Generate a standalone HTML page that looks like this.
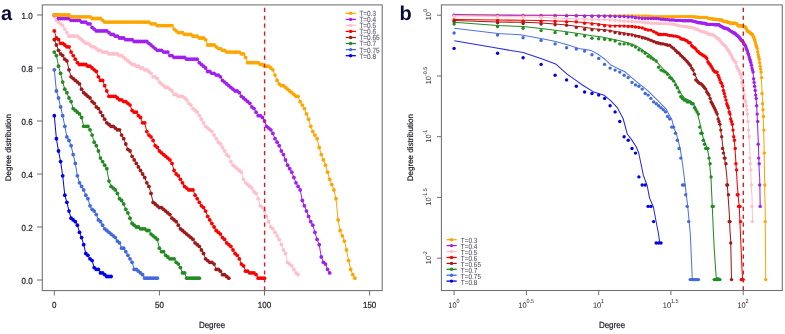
<!DOCTYPE html><html><head><meta charset="utf-8"><style>html,body{margin:0;padding:0;background:#fff;}svg{display:block;text-rendering:geometricPrecision;} text{font-family:'Liberation Sans',Arial,sans-serif;} .l{stroke:#262630;stroke-width:0.22px;}</style></head><body>
<svg width="785" height="334" viewBox="0 0 785 334">
<rect width="785" height="334" fill="#fff"/>
<text x="1" y="20.3" style="font-size:20px;font-weight:bold;fill:#0b0b3a">a</text>
<line x1="37" y1="280" x2="42.5" y2="280" stroke="#6e6e6e" stroke-width="1"/>
<text transform="translate(32.6,283.9) scale(1,1.1)" text-anchor="end" class="l" style="font-size:8px;fill:#262630">0.0</text>
<line x1="37" y1="227" x2="42.5" y2="227" stroke="#6e6e6e" stroke-width="1"/>
<text transform="translate(32.6,230.9) scale(1,1.1)" text-anchor="end" class="l" style="font-size:8px;fill:#262630">0.2</text>
<line x1="37" y1="174" x2="42.5" y2="174" stroke="#6e6e6e" stroke-width="1"/>
<text transform="translate(32.6,177.9) scale(1,1.1)" text-anchor="end" class="l" style="font-size:8px;fill:#262630">0.4</text>
<line x1="37" y1="121" x2="42.5" y2="121" stroke="#6e6e6e" stroke-width="1"/>
<text transform="translate(32.6,124.9) scale(1,1.1)" text-anchor="end" class="l" style="font-size:8px;fill:#262630">0.6</text>
<line x1="37" y1="68" x2="42.5" y2="68" stroke="#6e6e6e" stroke-width="1"/>
<text transform="translate(32.6,71.9) scale(1,1.1)" text-anchor="end" class="l" style="font-size:8px;fill:#262630">0.8</text>
<line x1="37" y1="15" x2="42.5" y2="15" stroke="#6e6e6e" stroke-width="1"/>
<text transform="translate(32.6,18.9) scale(1,1.1)" text-anchor="end" class="l" style="font-size:8px;fill:#262630">1.0</text>
<line x1="54.3" y1="290.5" x2="54.3" y2="295.5" stroke="#6e6e6e" stroke-width="1"/>
<text transform="translate(54.3,308.2) scale(1,1.1)" text-anchor="middle" class="l" style="font-size:8px;fill:#262630">0</text>
<line x1="159.4" y1="290.5" x2="159.4" y2="295.5" stroke="#6e6e6e" stroke-width="1"/>
<text transform="translate(159.4,308.2) scale(1,1.1)" text-anchor="middle" class="l" style="font-size:8px;fill:#262630">50</text>
<line x1="264.5" y1="290.5" x2="264.5" y2="295.5" stroke="#6e6e6e" stroke-width="1"/>
<text transform="translate(264.5,308.2) scale(1,1.1)" text-anchor="middle" class="l" style="font-size:8px;fill:#262630">100</text>
<line x1="369.6" y1="290.5" x2="369.6" y2="295.5" stroke="#6e6e6e" stroke-width="1"/>
<text transform="translate(369.6,308.2) scale(1,1.1)" text-anchor="middle" class="l" style="font-size:8px;fill:#262630">150</text>
<text transform="translate(212,328.3) scale(1,1.12)" text-anchor="middle" class="l" style="font-size:8px;fill:#262630">Degree</text>
<text transform="translate(10.9,147.6) rotate(-90)" text-anchor="middle" class="l" style="font-size:8px;fill:#262630">Degree distribution</text>
<g clip-path="url(#ca)">
<polyline fill="none" stroke="#0000EE" stroke-width="1" points="54.3,115.7 56.4,138.7 58.5,151 60.6,161.6 62.7,175.8 64.8,195.2 66.9,202.3 69,211.1 71.1,218.2 73.2,219.9 75.3,221.7 77.4,225.2 79.5,232.3 81.6,237.6 83.7,244.7 85.8,253.5 87.9,255.3 90,258.8 92.1,260.6 94.2,267.6 96.3,269.4 98.4,269.4 100.5,272.9 102.6,272.9 104.7,274.7 106.8,276.5 109,276.5 111.1,276.5"/>
<g fill="#0000EE"><circle cx="54.3" cy="115.7" r="1.9"/><circle cx="56.4" cy="138.7" r="1.9"/><circle cx="58.5" cy="151" r="1.9"/><circle cx="60.6" cy="161.6" r="1.9"/><circle cx="62.7" cy="175.8" r="1.9"/><circle cx="64.8" cy="195.2" r="1.9"/><circle cx="66.9" cy="202.3" r="1.9"/><circle cx="69" cy="211.1" r="1.9"/><circle cx="71.1" cy="218.2" r="1.9"/><circle cx="73.2" cy="219.9" r="1.9"/><circle cx="75.3" cy="221.7" r="1.9"/><circle cx="77.4" cy="225.2" r="1.9"/><circle cx="79.5" cy="232.3" r="1.9"/><circle cx="81.6" cy="237.6" r="1.9"/><circle cx="83.7" cy="244.7" r="1.9"/><circle cx="85.8" cy="253.5" r="1.9"/><circle cx="87.9" cy="255.3" r="1.9"/><circle cx="90" cy="258.8" r="1.9"/><circle cx="92.1" cy="260.6" r="1.9"/><circle cx="94.2" cy="267.6" r="1.9"/><circle cx="96.3" cy="269.4" r="1.9"/><circle cx="98.4" cy="269.4" r="1.9"/><circle cx="100.5" cy="272.9" r="1.9"/><circle cx="102.6" cy="272.9" r="1.9"/><circle cx="104.7" cy="274.7" r="1.9"/><circle cx="106.8" cy="276.5" r="1.9"/><circle cx="109" cy="276.5" r="1.9"/><circle cx="111.1" cy="276.5" r="1.9"/></g>
<polyline fill="none" stroke="#4169E1" stroke-width="1" points="54.3,69.8 56.4,91 58.5,98 60.6,106.9 62.7,115.7 64.8,126.3 66.9,136.9 69,140.4 71.1,145.7 73.2,154.6 75.3,163.4 77.4,175.8 79.5,182.8 81.6,186.4 83.7,189.9 85.8,195.2 87.9,198.7 90,205.8 92.1,209.3 94.2,211.1 96.3,214.6 98.4,219.9 100.5,221.7 102.6,225.2 104.7,228.8 106.8,230.5 109,232.3 111.1,234.1 113.2,235.8 115.3,237.6 117.4,241.1 119.5,242.9 121.6,248.2 123.7,248.2 125.8,251.7 127.9,255.3 130,258.8 132.1,262.3 134.2,269.4 136.3,269.4 138.4,271.2 140.5,272.9 142.6,274.7 144.7,278.2 146.8,278.2 148.9,278.2 151,278.2 153.1,278.2 155.2,278.2 157.3,278.2"/>
<g fill="#4169E1"><circle cx="54.3" cy="69.8" r="1.9"/><circle cx="56.4" cy="91" r="1.9"/><circle cx="58.5" cy="98" r="1.9"/><circle cx="60.6" cy="106.9" r="1.9"/><circle cx="62.7" cy="115.7" r="1.9"/><circle cx="64.8" cy="126.3" r="1.9"/><circle cx="66.9" cy="136.9" r="1.9"/><circle cx="69" cy="140.4" r="1.9"/><circle cx="71.1" cy="145.7" r="1.9"/><circle cx="73.2" cy="154.6" r="1.9"/><circle cx="75.3" cy="163.4" r="1.9"/><circle cx="77.4" cy="175.8" r="1.9"/><circle cx="79.5" cy="182.8" r="1.9"/><circle cx="81.6" cy="186.4" r="1.9"/><circle cx="83.7" cy="189.9" r="1.9"/><circle cx="85.8" cy="195.2" r="1.9"/><circle cx="87.9" cy="198.7" r="1.9"/><circle cx="90" cy="205.8" r="1.9"/><circle cx="92.1" cy="209.3" r="1.9"/><circle cx="94.2" cy="211.1" r="1.9"/><circle cx="96.3" cy="214.6" r="1.9"/><circle cx="98.4" cy="219.9" r="1.9"/><circle cx="100.5" cy="221.7" r="1.9"/><circle cx="102.6" cy="225.2" r="1.9"/><circle cx="104.7" cy="228.8" r="1.9"/><circle cx="106.8" cy="230.5" r="1.9"/><circle cx="109" cy="232.3" r="1.9"/><circle cx="111.1" cy="234.1" r="1.9"/><circle cx="113.2" cy="235.8" r="1.9"/><circle cx="115.3" cy="237.6" r="1.9"/><circle cx="117.4" cy="241.1" r="1.9"/><circle cx="119.5" cy="242.9" r="1.9"/><circle cx="121.6" cy="248.2" r="1.9"/><circle cx="123.7" cy="248.2" r="1.9"/><circle cx="125.8" cy="251.7" r="1.9"/><circle cx="127.9" cy="255.3" r="1.9"/><circle cx="130" cy="258.8" r="1.9"/><circle cx="132.1" cy="262.3" r="1.9"/><circle cx="134.2" cy="269.4" r="1.9"/><circle cx="136.3" cy="269.4" r="1.9"/><circle cx="138.4" cy="271.2" r="1.9"/><circle cx="140.5" cy="272.9" r="1.9"/><circle cx="142.6" cy="274.7" r="1.9"/><circle cx="144.7" cy="278.2" r="1.9"/><circle cx="146.8" cy="278.2" r="1.9"/><circle cx="148.9" cy="278.2" r="1.9"/><circle cx="151" cy="278.2" r="1.9"/><circle cx="153.1" cy="278.2" r="1.9"/><circle cx="155.2" cy="278.2" r="1.9"/><circle cx="157.3" cy="278.2" r="1.9"/></g>
<polyline fill="none" stroke="#228B22" stroke-width="1" points="54.3,52.1 56.4,55.6 58.5,66.2 60.6,73.3 62.7,82.1 64.8,89.2 66.9,92.7 69,98 71.1,101.6 73.2,108.6 75.3,110.4 77.4,112.2 79.5,113.9 81.6,117.5 83.7,126.3 85.8,126.3 87.9,126.3 90,129.8 92.1,135.1 94.2,142.2 96.3,145.7 98.4,151 100.5,158.1 102.6,161.6 104.7,165.2 106.8,168.7 109,181.1 111.1,186.4 113.2,188.1 115.3,189.9 117.4,193.4 119.5,198.7 121.6,200.5 123.7,204 125.8,209.3 127.9,212.9 130,218.2 132.1,223.5 134.2,225.2 136.3,227 138.4,227 140.5,228.8 142.6,228.8 144.7,228.8 146.8,230.5 148.9,230.5 151,234.1 153.1,235.8 155.2,237.6 157.3,239.4 159.4,248.2 161.5,251.7 163.6,251.7 165.7,255.3 167.8,257 169.9,258.8 172,258.8 174.1,258.8 176.2,262.3 178.3,264.1 180.4,267.6 182.5,272.9 184.6,272.9 186.7,278.2 188.8,278.2 190.9,278.2 193,278.2 195.1,278.2 197.2,278.2 199.3,278.2"/>
<g fill="#228B22"><circle cx="54.3" cy="52.1" r="1.9"/><circle cx="56.4" cy="55.6" r="1.9"/><circle cx="58.5" cy="66.2" r="1.9"/><circle cx="60.6" cy="73.3" r="1.9"/><circle cx="62.7" cy="82.1" r="1.9"/><circle cx="64.8" cy="89.2" r="1.9"/><circle cx="66.9" cy="92.7" r="1.9"/><circle cx="69" cy="98" r="1.9"/><circle cx="71.1" cy="101.6" r="1.9"/><circle cx="73.2" cy="108.6" r="1.9"/><circle cx="75.3" cy="110.4" r="1.9"/><circle cx="77.4" cy="112.2" r="1.9"/><circle cx="79.5" cy="113.9" r="1.9"/><circle cx="81.6" cy="117.5" r="1.9"/><circle cx="83.7" cy="126.3" r="1.9"/><circle cx="85.8" cy="126.3" r="1.9"/><circle cx="87.9" cy="126.3" r="1.9"/><circle cx="90" cy="129.8" r="1.9"/><circle cx="92.1" cy="135.1" r="1.9"/><circle cx="94.2" cy="142.2" r="1.9"/><circle cx="96.3" cy="145.7" r="1.9"/><circle cx="98.4" cy="151" r="1.9"/><circle cx="100.5" cy="158.1" r="1.9"/><circle cx="102.6" cy="161.6" r="1.9"/><circle cx="104.7" cy="165.2" r="1.9"/><circle cx="106.8" cy="168.7" r="1.9"/><circle cx="109" cy="181.1" r="1.9"/><circle cx="111.1" cy="186.4" r="1.9"/><circle cx="113.2" cy="188.1" r="1.9"/><circle cx="115.3" cy="189.9" r="1.9"/><circle cx="117.4" cy="193.4" r="1.9"/><circle cx="119.5" cy="198.7" r="1.9"/><circle cx="121.6" cy="200.5" r="1.9"/><circle cx="123.7" cy="204" r="1.9"/><circle cx="125.8" cy="209.3" r="1.9"/><circle cx="127.9" cy="212.9" r="1.9"/><circle cx="130" cy="218.2" r="1.9"/><circle cx="132.1" cy="223.5" r="1.9"/><circle cx="134.2" cy="225.2" r="1.9"/><circle cx="136.3" cy="227" r="1.9"/><circle cx="138.4" cy="227" r="1.9"/><circle cx="140.5" cy="228.8" r="1.9"/><circle cx="142.6" cy="228.8" r="1.9"/><circle cx="144.7" cy="228.8" r="1.9"/><circle cx="146.8" cy="230.5" r="1.9"/><circle cx="148.9" cy="230.5" r="1.9"/><circle cx="151" cy="234.1" r="1.9"/><circle cx="153.1" cy="235.8" r="1.9"/><circle cx="155.2" cy="237.6" r="1.9"/><circle cx="157.3" cy="239.4" r="1.9"/><circle cx="159.4" cy="248.2" r="1.9"/><circle cx="161.5" cy="251.7" r="1.9"/><circle cx="163.6" cy="251.7" r="1.9"/><circle cx="165.7" cy="255.3" r="1.9"/><circle cx="167.8" cy="257" r="1.9"/><circle cx="169.9" cy="258.8" r="1.9"/><circle cx="172" cy="258.8" r="1.9"/><circle cx="174.1" cy="258.8" r="1.9"/><circle cx="176.2" cy="262.3" r="1.9"/><circle cx="178.3" cy="264.1" r="1.9"/><circle cx="180.4" cy="267.6" r="1.9"/><circle cx="182.5" cy="272.9" r="1.9"/><circle cx="184.6" cy="272.9" r="1.9"/><circle cx="186.7" cy="278.2" r="1.9"/><circle cx="188.8" cy="278.2" r="1.9"/><circle cx="190.9" cy="278.2" r="1.9"/><circle cx="193" cy="278.2" r="1.9"/><circle cx="195.1" cy="278.2" r="1.9"/><circle cx="197.2" cy="278.2" r="1.9"/><circle cx="199.3" cy="278.2" r="1.9"/></g>
<polyline fill="none" stroke="#A01A1A" stroke-width="1" points="54.3,39.7 56.4,45 58.5,50.3 60.6,53.9 62.7,55.6 64.8,59.2 66.9,60.9 69,69.8 71.1,76.8 73.2,78.6 75.3,80.4 77.4,82.1 79.5,83.9 81.6,89.2 83.7,92.7 85.8,94.5 87.9,96.3 90,98 92.1,101.6 94.2,103.3 96.3,106.9 98.4,108.6 100.5,112.2 102.6,115.7 104.7,119.2 106.8,122.8 109,124.5 111.1,126.3 113.2,126.3 115.3,128.1 117.4,129.8 119.5,129.8 121.6,135.1 123.7,138.7 125.8,144 127.9,149.3 130,151 132.1,156.3 134.2,159.9 136.3,163.4 138.4,166.9 140.5,170.5 142.6,174 144.7,177.5 146.8,182.8 148.9,186.4 151,193.4 153.1,202.3 155.2,204 157.3,205.8 159.4,207.6 161.5,207.6 163.6,209.3 165.7,211.1 167.8,212.9 169.9,214.6 172,218.2 174.1,219.9 176.2,221.7 178.3,225.2 180.4,228.8 182.5,230.5 184.6,232.3 186.7,234.1 188.8,235.8 190.9,237.6 193,239.4 195.1,242.9 197.2,244.7 199.3,246.4 201.4,250 203.5,253.5 205.6,258.8 207.7,260.6 209.8,262.3 211.9,262.3 214.1,264.1 216.2,269.4 218.3,269.4 220.4,271.2 222.5,274.7 224.6,274.7 226.7,276.5 228.8,278.2"/>
<g fill="#A01A1A"><circle cx="54.3" cy="39.7" r="1.9"/><circle cx="56.4" cy="45" r="1.9"/><circle cx="58.5" cy="50.3" r="1.9"/><circle cx="60.6" cy="53.9" r="1.9"/><circle cx="62.7" cy="55.6" r="1.9"/><circle cx="64.8" cy="59.2" r="1.9"/><circle cx="66.9" cy="60.9" r="1.9"/><circle cx="69" cy="69.8" r="1.9"/><circle cx="71.1" cy="76.8" r="1.9"/><circle cx="73.2" cy="78.6" r="1.9"/><circle cx="75.3" cy="80.4" r="1.9"/><circle cx="77.4" cy="82.1" r="1.9"/><circle cx="79.5" cy="83.9" r="1.9"/><circle cx="81.6" cy="89.2" r="1.9"/><circle cx="83.7" cy="92.7" r="1.9"/><circle cx="85.8" cy="94.5" r="1.9"/><circle cx="87.9" cy="96.3" r="1.9"/><circle cx="90" cy="98" r="1.9"/><circle cx="92.1" cy="101.6" r="1.9"/><circle cx="94.2" cy="103.3" r="1.9"/><circle cx="96.3" cy="106.9" r="1.9"/><circle cx="98.4" cy="108.6" r="1.9"/><circle cx="100.5" cy="112.2" r="1.9"/><circle cx="102.6" cy="115.7" r="1.9"/><circle cx="104.7" cy="119.2" r="1.9"/><circle cx="106.8" cy="122.8" r="1.9"/><circle cx="109" cy="124.5" r="1.9"/><circle cx="111.1" cy="126.3" r="1.9"/><circle cx="113.2" cy="126.3" r="1.9"/><circle cx="115.3" cy="128.1" r="1.9"/><circle cx="117.4" cy="129.8" r="1.9"/><circle cx="119.5" cy="129.8" r="1.9"/><circle cx="121.6" cy="135.1" r="1.9"/><circle cx="123.7" cy="138.7" r="1.9"/><circle cx="125.8" cy="144" r="1.9"/><circle cx="127.9" cy="149.3" r="1.9"/><circle cx="130" cy="151" r="1.9"/><circle cx="132.1" cy="156.3" r="1.9"/><circle cx="134.2" cy="159.9" r="1.9"/><circle cx="136.3" cy="163.4" r="1.9"/><circle cx="138.4" cy="166.9" r="1.9"/><circle cx="140.5" cy="170.5" r="1.9"/><circle cx="142.6" cy="174" r="1.9"/><circle cx="144.7" cy="177.5" r="1.9"/><circle cx="146.8" cy="182.8" r="1.9"/><circle cx="148.9" cy="186.4" r="1.9"/><circle cx="151" cy="193.4" r="1.9"/><circle cx="153.1" cy="202.3" r="1.9"/><circle cx="155.2" cy="204" r="1.9"/><circle cx="157.3" cy="205.8" r="1.9"/><circle cx="159.4" cy="207.6" r="1.9"/><circle cx="161.5" cy="207.6" r="1.9"/><circle cx="163.6" cy="209.3" r="1.9"/><circle cx="165.7" cy="211.1" r="1.9"/><circle cx="167.8" cy="212.9" r="1.9"/><circle cx="169.9" cy="214.6" r="1.9"/><circle cx="172" cy="218.2" r="1.9"/><circle cx="174.1" cy="219.9" r="1.9"/><circle cx="176.2" cy="221.7" r="1.9"/><circle cx="178.3" cy="225.2" r="1.9"/><circle cx="180.4" cy="228.8" r="1.9"/><circle cx="182.5" cy="230.5" r="1.9"/><circle cx="184.6" cy="232.3" r="1.9"/><circle cx="186.7" cy="234.1" r="1.9"/><circle cx="188.8" cy="235.8" r="1.9"/><circle cx="190.9" cy="237.6" r="1.9"/><circle cx="193" cy="239.4" r="1.9"/><circle cx="195.1" cy="242.9" r="1.9"/><circle cx="197.2" cy="244.7" r="1.9"/><circle cx="199.3" cy="246.4" r="1.9"/><circle cx="201.4" cy="250" r="1.9"/><circle cx="203.5" cy="253.5" r="1.9"/><circle cx="205.6" cy="258.8" r="1.9"/><circle cx="207.7" cy="260.6" r="1.9"/><circle cx="209.8" cy="262.3" r="1.9"/><circle cx="211.9" cy="262.3" r="1.9"/><circle cx="214.1" cy="264.1" r="1.9"/><circle cx="216.2" cy="269.4" r="1.9"/><circle cx="218.3" cy="269.4" r="1.9"/><circle cx="220.4" cy="271.2" r="1.9"/><circle cx="222.5" cy="274.7" r="1.9"/><circle cx="224.6" cy="274.7" r="1.9"/><circle cx="226.7" cy="276.5" r="1.9"/><circle cx="228.8" cy="278.2" r="1.9"/></g>
<polyline fill="none" stroke="#FF0000" stroke-width="1" points="54.3,30.9 56.4,38 58.5,39.7 60.6,43.3 62.7,43.3 64.8,45 66.9,46.8 69,46.8 71.1,52.1 73.2,55.6 75.3,59.2 77.4,62.7 79.5,64.5 81.6,64.5 83.7,64.5 85.8,64.5 87.9,66.2 90,66.2 92.1,68 94.2,69.8 96.3,71.5 98.4,76.8 100.5,80.4 102.6,80.4 104.7,85.7 106.8,91 109,96.3 111.1,96.3 113.2,96.3 115.3,96.3 117.4,98 119.5,99.8 121.6,99.8 123.7,101.6 125.8,101.6 127.9,103.3 130,105.1 132.1,110.4 134.2,112.2 136.3,112.2 138.4,115.7 140.5,117.5 142.6,122.8 144.7,122.8 146.8,131.6 148.9,135.1 151,136.9 153.1,140.4 155.2,145.7 157.3,147.5 159.4,151 161.5,152.8 163.6,154.6 165.7,156.3 167.8,158.1 169.9,159.9 172,163.4 174.1,170.5 176.2,174 178.3,175.8 180.4,179.3 182.5,182.8 184.6,186.4 186.7,188.1 188.8,189.9 190.9,189.9 193,189.9 195.1,195.2 197.2,198.7 199.3,202.3 201.4,205.8 203.5,207.6 205.6,211.1 207.7,216.4 209.8,219.9 211.9,223.5 214.1,227 216.2,230.5 218.3,232.3 220.4,234.1 222.5,237.6 224.6,239.4 226.7,242.9 228.8,244.7 230.9,246.4 233,250 235.1,253.5 237.2,255.3 239.3,258.8 241.4,264.1 243.5,265.9 245.6,271.2 247.7,271.2 249.8,272.9 251.9,272.9 254,272.9 256.1,274.7 258.2,278.2 260.3,278.2 262.4,278.2 264.5,278.2"/>
<g fill="#FF0000"><circle cx="54.3" cy="30.9" r="1.9"/><circle cx="56.4" cy="38" r="1.9"/><circle cx="58.5" cy="39.7" r="1.9"/><circle cx="60.6" cy="43.3" r="1.9"/><circle cx="62.7" cy="43.3" r="1.9"/><circle cx="64.8" cy="45" r="1.9"/><circle cx="66.9" cy="46.8" r="1.9"/><circle cx="69" cy="46.8" r="1.9"/><circle cx="71.1" cy="52.1" r="1.9"/><circle cx="73.2" cy="55.6" r="1.9"/><circle cx="75.3" cy="59.2" r="1.9"/><circle cx="77.4" cy="62.7" r="1.9"/><circle cx="79.5" cy="64.5" r="1.9"/><circle cx="81.6" cy="64.5" r="1.9"/><circle cx="83.7" cy="64.5" r="1.9"/><circle cx="85.8" cy="64.5" r="1.9"/><circle cx="87.9" cy="66.2" r="1.9"/><circle cx="90" cy="66.2" r="1.9"/><circle cx="92.1" cy="68" r="1.9"/><circle cx="94.2" cy="69.8" r="1.9"/><circle cx="96.3" cy="71.5" r="1.9"/><circle cx="98.4" cy="76.8" r="1.9"/><circle cx="100.5" cy="80.4" r="1.9"/><circle cx="102.6" cy="80.4" r="1.9"/><circle cx="104.7" cy="85.7" r="1.9"/><circle cx="106.8" cy="91" r="1.9"/><circle cx="109" cy="96.3" r="1.9"/><circle cx="111.1" cy="96.3" r="1.9"/><circle cx="113.2" cy="96.3" r="1.9"/><circle cx="115.3" cy="96.3" r="1.9"/><circle cx="117.4" cy="98" r="1.9"/><circle cx="119.5" cy="99.8" r="1.9"/><circle cx="121.6" cy="99.8" r="1.9"/><circle cx="123.7" cy="101.6" r="1.9"/><circle cx="125.8" cy="101.6" r="1.9"/><circle cx="127.9" cy="103.3" r="1.9"/><circle cx="130" cy="105.1" r="1.9"/><circle cx="132.1" cy="110.4" r="1.9"/><circle cx="134.2" cy="112.2" r="1.9"/><circle cx="136.3" cy="112.2" r="1.9"/><circle cx="138.4" cy="115.7" r="1.9"/><circle cx="140.5" cy="117.5" r="1.9"/><circle cx="142.6" cy="122.8" r="1.9"/><circle cx="144.7" cy="122.8" r="1.9"/><circle cx="146.8" cy="131.6" r="1.9"/><circle cx="148.9" cy="135.1" r="1.9"/><circle cx="151" cy="136.9" r="1.9"/><circle cx="153.1" cy="140.4" r="1.9"/><circle cx="155.2" cy="145.7" r="1.9"/><circle cx="157.3" cy="147.5" r="1.9"/><circle cx="159.4" cy="151" r="1.9"/><circle cx="161.5" cy="152.8" r="1.9"/><circle cx="163.6" cy="154.6" r="1.9"/><circle cx="165.7" cy="156.3" r="1.9"/><circle cx="167.8" cy="158.1" r="1.9"/><circle cx="169.9" cy="159.9" r="1.9"/><circle cx="172" cy="163.4" r="1.9"/><circle cx="174.1" cy="170.5" r="1.9"/><circle cx="176.2" cy="174" r="1.9"/><circle cx="178.3" cy="175.8" r="1.9"/><circle cx="180.4" cy="179.3" r="1.9"/><circle cx="182.5" cy="182.8" r="1.9"/><circle cx="184.6" cy="186.4" r="1.9"/><circle cx="186.7" cy="188.1" r="1.9"/><circle cx="188.8" cy="189.9" r="1.9"/><circle cx="190.9" cy="189.9" r="1.9"/><circle cx="193" cy="189.9" r="1.9"/><circle cx="195.1" cy="195.2" r="1.9"/><circle cx="197.2" cy="198.7" r="1.9"/><circle cx="199.3" cy="202.3" r="1.9"/><circle cx="201.4" cy="205.8" r="1.9"/><circle cx="203.5" cy="207.6" r="1.9"/><circle cx="205.6" cy="211.1" r="1.9"/><circle cx="207.7" cy="216.4" r="1.9"/><circle cx="209.8" cy="219.9" r="1.9"/><circle cx="211.9" cy="223.5" r="1.9"/><circle cx="214.1" cy="227" r="1.9"/><circle cx="216.2" cy="230.5" r="1.9"/><circle cx="218.3" cy="232.3" r="1.9"/><circle cx="220.4" cy="234.1" r="1.9"/><circle cx="222.5" cy="237.6" r="1.9"/><circle cx="224.6" cy="239.4" r="1.9"/><circle cx="226.7" cy="242.9" r="1.9"/><circle cx="228.8" cy="244.7" r="1.9"/><circle cx="230.9" cy="246.4" r="1.9"/><circle cx="233" cy="250" r="1.9"/><circle cx="235.1" cy="253.5" r="1.9"/><circle cx="237.2" cy="255.3" r="1.9"/><circle cx="239.3" cy="258.8" r="1.9"/><circle cx="241.4" cy="264.1" r="1.9"/><circle cx="243.5" cy="265.9" r="1.9"/><circle cx="245.6" cy="271.2" r="1.9"/><circle cx="247.7" cy="271.2" r="1.9"/><circle cx="249.8" cy="272.9" r="1.9"/><circle cx="251.9" cy="272.9" r="1.9"/><circle cx="254" cy="272.9" r="1.9"/><circle cx="256.1" cy="274.7" r="1.9"/><circle cx="258.2" cy="278.2" r="1.9"/><circle cx="260.3" cy="278.2" r="1.9"/><circle cx="262.4" cy="278.2" r="1.9"/><circle cx="264.5" cy="278.2" r="1.9"/></g>
<polyline fill="none" stroke="#FFC0CB" stroke-width="1" points="54.3,16.8 56.4,20.3 58.5,22.1 60.6,23.8 62.7,25.6 64.8,29.1 66.9,32.7 69,36.2 71.1,36.2 73.2,36.2 75.3,36.2 77.4,36.2 79.5,38 81.6,39.7 83.7,41.5 85.8,43.3 87.9,43.3 90,45 92.1,46.8 94.2,46.8 96.3,48.6 98.4,50.3 100.5,50.3 102.6,52.1 104.7,52.1 106.8,52.1 109,53.9 111.1,53.9 113.2,53.9 115.3,53.9 117.4,53.9 119.5,55.6 121.6,55.6 123.7,57.4 125.8,59.2 127.9,60.9 130,62.7 132.1,64.5 134.2,64.5 136.3,66.2 138.4,66.2 140.5,68 142.6,68 144.7,69.8 146.8,69.8 148.9,71.5 151,73.3 153.1,76.8 155.2,76.8 157.3,78.6 159.4,82.1 161.5,83.9 163.6,85.7 165.7,87.4 167.8,87.4 169.9,89.2 172,91 174.1,94.5 176.2,94.5 178.3,96.3 180.4,96.3 182.5,96.3 184.6,98 186.7,99.8 188.8,103.3 190.9,105.1 193,108.6 195.1,110.4 197.2,112.2 199.3,115.7 201.4,119.2 203.5,122.8 205.6,126.3 207.7,128.1 209.8,129.8 211.9,131.6 214.1,135.1 216.2,138.7 218.3,142.2 220.4,144 222.5,147.5 224.6,151 226.7,154.6 228.8,156.3 230.9,161.6 233,165.2 235.1,166.9 237.2,168.7 239.3,170.5 241.4,172.2 243.5,179.3 245.6,182.8 247.7,184.6 249.8,186.4 251.9,188.1 254,191.7 256.1,193.4 258.2,198.7 260.3,205.8 262.4,207.6 264.5,211.1 266.6,216.4 268.7,221.7 270.8,227 272.9,228.8 275,232.3 277.1,235.8 279.2,239.4 281.3,244.7 283.4,250 285.5,253.5 287.6,262.3 289.7,264.1 291.8,265.9 293.9,269.4 296,272.9 298.1,274.7"/>
<g fill="#FFC0CB"><circle cx="54.3" cy="16.8" r="1.9"/><circle cx="56.4" cy="20.3" r="1.9"/><circle cx="58.5" cy="22.1" r="1.9"/><circle cx="60.6" cy="23.8" r="1.9"/><circle cx="62.7" cy="25.6" r="1.9"/><circle cx="64.8" cy="29.1" r="1.9"/><circle cx="66.9" cy="32.7" r="1.9"/><circle cx="69" cy="36.2" r="1.9"/><circle cx="71.1" cy="36.2" r="1.9"/><circle cx="73.2" cy="36.2" r="1.9"/><circle cx="75.3" cy="36.2" r="1.9"/><circle cx="77.4" cy="36.2" r="1.9"/><circle cx="79.5" cy="38" r="1.9"/><circle cx="81.6" cy="39.7" r="1.9"/><circle cx="83.7" cy="41.5" r="1.9"/><circle cx="85.8" cy="43.3" r="1.9"/><circle cx="87.9" cy="43.3" r="1.9"/><circle cx="90" cy="45" r="1.9"/><circle cx="92.1" cy="46.8" r="1.9"/><circle cx="94.2" cy="46.8" r="1.9"/><circle cx="96.3" cy="48.6" r="1.9"/><circle cx="98.4" cy="50.3" r="1.9"/><circle cx="100.5" cy="50.3" r="1.9"/><circle cx="102.6" cy="52.1" r="1.9"/><circle cx="104.7" cy="52.1" r="1.9"/><circle cx="106.8" cy="52.1" r="1.9"/><circle cx="109" cy="53.9" r="1.9"/><circle cx="111.1" cy="53.9" r="1.9"/><circle cx="113.2" cy="53.9" r="1.9"/><circle cx="115.3" cy="53.9" r="1.9"/><circle cx="117.4" cy="53.9" r="1.9"/><circle cx="119.5" cy="55.6" r="1.9"/><circle cx="121.6" cy="55.6" r="1.9"/><circle cx="123.7" cy="57.4" r="1.9"/><circle cx="125.8" cy="59.2" r="1.9"/><circle cx="127.9" cy="60.9" r="1.9"/><circle cx="130" cy="62.7" r="1.9"/><circle cx="132.1" cy="64.5" r="1.9"/><circle cx="134.2" cy="64.5" r="1.9"/><circle cx="136.3" cy="66.2" r="1.9"/><circle cx="138.4" cy="66.2" r="1.9"/><circle cx="140.5" cy="68" r="1.9"/><circle cx="142.6" cy="68" r="1.9"/><circle cx="144.7" cy="69.8" r="1.9"/><circle cx="146.8" cy="69.8" r="1.9"/><circle cx="148.9" cy="71.5" r="1.9"/><circle cx="151" cy="73.3" r="1.9"/><circle cx="153.1" cy="76.8" r="1.9"/><circle cx="155.2" cy="76.8" r="1.9"/><circle cx="157.3" cy="78.6" r="1.9"/><circle cx="159.4" cy="82.1" r="1.9"/><circle cx="161.5" cy="83.9" r="1.9"/><circle cx="163.6" cy="85.7" r="1.9"/><circle cx="165.7" cy="87.4" r="1.9"/><circle cx="167.8" cy="87.4" r="1.9"/><circle cx="169.9" cy="89.2" r="1.9"/><circle cx="172" cy="91" r="1.9"/><circle cx="174.1" cy="94.5" r="1.9"/><circle cx="176.2" cy="94.5" r="1.9"/><circle cx="178.3" cy="96.3" r="1.9"/><circle cx="180.4" cy="96.3" r="1.9"/><circle cx="182.5" cy="96.3" r="1.9"/><circle cx="184.6" cy="98" r="1.9"/><circle cx="186.7" cy="99.8" r="1.9"/><circle cx="188.8" cy="103.3" r="1.9"/><circle cx="190.9" cy="105.1" r="1.9"/><circle cx="193" cy="108.6" r="1.9"/><circle cx="195.1" cy="110.4" r="1.9"/><circle cx="197.2" cy="112.2" r="1.9"/><circle cx="199.3" cy="115.7" r="1.9"/><circle cx="201.4" cy="119.2" r="1.9"/><circle cx="203.5" cy="122.8" r="1.9"/><circle cx="205.6" cy="126.3" r="1.9"/><circle cx="207.7" cy="128.1" r="1.9"/><circle cx="209.8" cy="129.8" r="1.9"/><circle cx="211.9" cy="131.6" r="1.9"/><circle cx="214.1" cy="135.1" r="1.9"/><circle cx="216.2" cy="138.7" r="1.9"/><circle cx="218.3" cy="142.2" r="1.9"/><circle cx="220.4" cy="144" r="1.9"/><circle cx="222.5" cy="147.5" r="1.9"/><circle cx="224.6" cy="151" r="1.9"/><circle cx="226.7" cy="154.6" r="1.9"/><circle cx="228.8" cy="156.3" r="1.9"/><circle cx="230.9" cy="161.6" r="1.9"/><circle cx="233" cy="165.2" r="1.9"/><circle cx="235.1" cy="166.9" r="1.9"/><circle cx="237.2" cy="168.7" r="1.9"/><circle cx="239.3" cy="170.5" r="1.9"/><circle cx="241.4" cy="172.2" r="1.9"/><circle cx="243.5" cy="179.3" r="1.9"/><circle cx="245.6" cy="182.8" r="1.9"/><circle cx="247.7" cy="184.6" r="1.9"/><circle cx="249.8" cy="186.4" r="1.9"/><circle cx="251.9" cy="188.1" r="1.9"/><circle cx="254" cy="191.7" r="1.9"/><circle cx="256.1" cy="193.4" r="1.9"/><circle cx="258.2" cy="198.7" r="1.9"/><circle cx="260.3" cy="205.8" r="1.9"/><circle cx="262.4" cy="207.6" r="1.9"/><circle cx="264.5" cy="211.1" r="1.9"/><circle cx="266.6" cy="216.4" r="1.9"/><circle cx="268.7" cy="221.7" r="1.9"/><circle cx="270.8" cy="227" r="1.9"/><circle cx="272.9" cy="228.8" r="1.9"/><circle cx="275" cy="232.3" r="1.9"/><circle cx="277.1" cy="235.8" r="1.9"/><circle cx="279.2" cy="239.4" r="1.9"/><circle cx="281.3" cy="244.7" r="1.9"/><circle cx="283.4" cy="250" r="1.9"/><circle cx="285.5" cy="253.5" r="1.9"/><circle cx="287.6" cy="262.3" r="1.9"/><circle cx="289.7" cy="264.1" r="1.9"/><circle cx="291.8" cy="265.9" r="1.9"/><circle cx="293.9" cy="269.4" r="1.9"/><circle cx="296" cy="272.9" r="1.9"/><circle cx="298.1" cy="274.7" r="1.9"/></g>
<polyline fill="none" stroke="#A020F0" stroke-width="1" points="54.3,15 56.4,15 58.5,18.5 60.6,18.5 62.7,18.5 64.8,18.5 66.9,18.5 69,18.5 71.1,20.3 73.2,20.3 75.3,20.3 77.4,20.3 79.5,20.3 81.6,22.1 83.7,22.1 85.8,22.1 87.9,23.8 90,23.8 92.1,27.4 94.2,29.1 96.3,30.9 98.4,30.9 100.5,30.9 102.6,30.9 104.7,30.9 106.8,30.9 109,32.7 111.1,34.4 113.2,34.4 115.3,36.2 117.4,36.2 119.5,38 121.6,38 123.7,38 125.8,39.7 127.9,39.7 130,39.7 132.1,39.7 134.2,41.5 136.3,41.5 138.4,41.5 140.5,41.5 142.6,41.5 144.7,41.5 146.8,41.5 148.9,43.3 151,45 153.1,46.8 155.2,48.6 157.3,50.3 159.4,50.3 161.5,50.3 163.6,52.1 165.7,52.1 167.8,52.1 169.9,55.6 172,55.6 174.1,57.4 176.2,57.4 178.3,57.4 180.4,57.4 182.5,57.4 184.6,57.4 186.7,59.2 188.8,59.2 190.9,59.2 193,59.2 195.1,59.2 197.2,59.2 199.3,62.7 201.4,64.5 203.5,66.2 205.6,68 207.7,71.5 209.8,71.5 211.9,73.3 214.1,73.3 216.2,75.1 218.3,75.1 220.4,76.8 222.5,80.4 224.6,82.1 226.7,83.9 228.8,85.7 230.9,87.4 233,89.2 235.1,91 237.2,91 239.3,92.7 241.4,96.3 243.5,98 245.6,99.8 247.7,101.6 249.8,103.3 251.9,106.9 254,108.6 256.1,112.2 258.2,115.7 260.3,115.7 262.4,117.5 264.5,121 266.6,126.3 268.7,128.1 270.8,129.8 272.9,133.4 275,138.7 277.1,142.2 279.2,145.7 281.3,151 283.4,154.6 285.5,159.9 287.6,165.2 289.7,168.7 291.8,172.2 293.9,177.5 296,182.8 298.1,186.4 300.2,189.9 302.3,200.5 304.4,205.8 306.5,211.1 308.6,216.4 310.7,221.7 312.8,225.2 314.9,232.3 317.1,239.4 319.2,244.7 321.3,257 323.4,262.3 325.5,264.1 327.6,269.4 329.7,272.9"/>
<g fill="#A020F0"><circle cx="54.3" cy="15" r="1.9"/><circle cx="56.4" cy="15" r="1.9"/><circle cx="58.5" cy="18.5" r="1.9"/><circle cx="60.6" cy="18.5" r="1.9"/><circle cx="62.7" cy="18.5" r="1.9"/><circle cx="64.8" cy="18.5" r="1.9"/><circle cx="66.9" cy="18.5" r="1.9"/><circle cx="69" cy="18.5" r="1.9"/><circle cx="71.1" cy="20.3" r="1.9"/><circle cx="73.2" cy="20.3" r="1.9"/><circle cx="75.3" cy="20.3" r="1.9"/><circle cx="77.4" cy="20.3" r="1.9"/><circle cx="79.5" cy="20.3" r="1.9"/><circle cx="81.6" cy="22.1" r="1.9"/><circle cx="83.7" cy="22.1" r="1.9"/><circle cx="85.8" cy="22.1" r="1.9"/><circle cx="87.9" cy="23.8" r="1.9"/><circle cx="90" cy="23.8" r="1.9"/><circle cx="92.1" cy="27.4" r="1.9"/><circle cx="94.2" cy="29.1" r="1.9"/><circle cx="96.3" cy="30.9" r="1.9"/><circle cx="98.4" cy="30.9" r="1.9"/><circle cx="100.5" cy="30.9" r="1.9"/><circle cx="102.6" cy="30.9" r="1.9"/><circle cx="104.7" cy="30.9" r="1.9"/><circle cx="106.8" cy="30.9" r="1.9"/><circle cx="109" cy="32.7" r="1.9"/><circle cx="111.1" cy="34.4" r="1.9"/><circle cx="113.2" cy="34.4" r="1.9"/><circle cx="115.3" cy="36.2" r="1.9"/><circle cx="117.4" cy="36.2" r="1.9"/><circle cx="119.5" cy="38" r="1.9"/><circle cx="121.6" cy="38" r="1.9"/><circle cx="123.7" cy="38" r="1.9"/><circle cx="125.8" cy="39.7" r="1.9"/><circle cx="127.9" cy="39.7" r="1.9"/><circle cx="130" cy="39.7" r="1.9"/><circle cx="132.1" cy="39.7" r="1.9"/><circle cx="134.2" cy="41.5" r="1.9"/><circle cx="136.3" cy="41.5" r="1.9"/><circle cx="138.4" cy="41.5" r="1.9"/><circle cx="140.5" cy="41.5" r="1.9"/><circle cx="142.6" cy="41.5" r="1.9"/><circle cx="144.7" cy="41.5" r="1.9"/><circle cx="146.8" cy="41.5" r="1.9"/><circle cx="148.9" cy="43.3" r="1.9"/><circle cx="151" cy="45" r="1.9"/><circle cx="153.1" cy="46.8" r="1.9"/><circle cx="155.2" cy="48.6" r="1.9"/><circle cx="157.3" cy="50.3" r="1.9"/><circle cx="159.4" cy="50.3" r="1.9"/><circle cx="161.5" cy="50.3" r="1.9"/><circle cx="163.6" cy="52.1" r="1.9"/><circle cx="165.7" cy="52.1" r="1.9"/><circle cx="167.8" cy="52.1" r="1.9"/><circle cx="169.9" cy="55.6" r="1.9"/><circle cx="172" cy="55.6" r="1.9"/><circle cx="174.1" cy="57.4" r="1.9"/><circle cx="176.2" cy="57.4" r="1.9"/><circle cx="178.3" cy="57.4" r="1.9"/><circle cx="180.4" cy="57.4" r="1.9"/><circle cx="182.5" cy="57.4" r="1.9"/><circle cx="184.6" cy="57.4" r="1.9"/><circle cx="186.7" cy="59.2" r="1.9"/><circle cx="188.8" cy="59.2" r="1.9"/><circle cx="190.9" cy="59.2" r="1.9"/><circle cx="193" cy="59.2" r="1.9"/><circle cx="195.1" cy="59.2" r="1.9"/><circle cx="197.2" cy="59.2" r="1.9"/><circle cx="199.3" cy="62.7" r="1.9"/><circle cx="201.4" cy="64.5" r="1.9"/><circle cx="203.5" cy="66.2" r="1.9"/><circle cx="205.6" cy="68" r="1.9"/><circle cx="207.7" cy="71.5" r="1.9"/><circle cx="209.8" cy="71.5" r="1.9"/><circle cx="211.9" cy="73.3" r="1.9"/><circle cx="214.1" cy="73.3" r="1.9"/><circle cx="216.2" cy="75.1" r="1.9"/><circle cx="218.3" cy="75.1" r="1.9"/><circle cx="220.4" cy="76.8" r="1.9"/><circle cx="222.5" cy="80.4" r="1.9"/><circle cx="224.6" cy="82.1" r="1.9"/><circle cx="226.7" cy="83.9" r="1.9"/><circle cx="228.8" cy="85.7" r="1.9"/><circle cx="230.9" cy="87.4" r="1.9"/><circle cx="233" cy="89.2" r="1.9"/><circle cx="235.1" cy="91" r="1.9"/><circle cx="237.2" cy="91" r="1.9"/><circle cx="239.3" cy="92.7" r="1.9"/><circle cx="241.4" cy="96.3" r="1.9"/><circle cx="243.5" cy="98" r="1.9"/><circle cx="245.6" cy="99.8" r="1.9"/><circle cx="247.7" cy="101.6" r="1.9"/><circle cx="249.8" cy="103.3" r="1.9"/><circle cx="251.9" cy="106.9" r="1.9"/><circle cx="254" cy="108.6" r="1.9"/><circle cx="256.1" cy="112.2" r="1.9"/><circle cx="258.2" cy="115.7" r="1.9"/><circle cx="260.3" cy="115.7" r="1.9"/><circle cx="262.4" cy="117.5" r="1.9"/><circle cx="264.5" cy="121" r="1.9"/><circle cx="266.6" cy="126.3" r="1.9"/><circle cx="268.7" cy="128.1" r="1.9"/><circle cx="270.8" cy="129.8" r="1.9"/><circle cx="272.9" cy="133.4" r="1.9"/><circle cx="275" cy="138.7" r="1.9"/><circle cx="277.1" cy="142.2" r="1.9"/><circle cx="279.2" cy="145.7" r="1.9"/><circle cx="281.3" cy="151" r="1.9"/><circle cx="283.4" cy="154.6" r="1.9"/><circle cx="285.5" cy="159.9" r="1.9"/><circle cx="287.6" cy="165.2" r="1.9"/><circle cx="289.7" cy="168.7" r="1.9"/><circle cx="291.8" cy="172.2" r="1.9"/><circle cx="293.9" cy="177.5" r="1.9"/><circle cx="296" cy="182.8" r="1.9"/><circle cx="298.1" cy="186.4" r="1.9"/><circle cx="300.2" cy="189.9" r="1.9"/><circle cx="302.3" cy="200.5" r="1.9"/><circle cx="304.4" cy="205.8" r="1.9"/><circle cx="306.5" cy="211.1" r="1.9"/><circle cx="308.6" cy="216.4" r="1.9"/><circle cx="310.7" cy="221.7" r="1.9"/><circle cx="312.8" cy="225.2" r="1.9"/><circle cx="314.9" cy="232.3" r="1.9"/><circle cx="317.1" cy="239.4" r="1.9"/><circle cx="319.2" cy="244.7" r="1.9"/><circle cx="321.3" cy="257" r="1.9"/><circle cx="323.4" cy="262.3" r="1.9"/><circle cx="325.5" cy="264.1" r="1.9"/><circle cx="327.6" cy="269.4" r="1.9"/><circle cx="329.7" cy="272.9" r="1.9"/></g>
<polyline fill="none" stroke="#FFA500" stroke-width="1" points="54.3,15 56.4,15 58.5,15 60.6,15 62.7,15 64.8,15 66.9,15 69,15 71.1,16.8 73.2,16.8 75.3,16.8 77.4,16.8 79.5,16.8 81.6,16.8 83.7,16.8 85.8,16.8 87.9,16.8 90,16.8 92.1,18.5 94.2,18.5 96.3,18.5 98.4,18.5 100.5,18.5 102.6,20.3 104.7,22.1 106.8,22.1 109,22.1 111.1,22.1 113.2,22.1 115.3,22.1 117.4,22.1 119.5,22.1 121.6,22.1 123.7,22.1 125.8,22.1 127.9,22.1 130,22.1 132.1,22.1 134.2,22.1 136.3,22.1 138.4,22.1 140.5,22.1 142.6,22.1 144.7,22.1 146.8,22.1 148.9,22.1 151,23.8 153.1,23.8 155.2,23.8 157.3,25.6 159.4,25.6 161.5,25.6 163.6,25.6 165.7,25.6 167.8,25.6 169.9,25.6 172,25.6 174.1,29.1 176.2,30.9 178.3,32.7 180.4,32.7 182.5,32.7 184.6,34.4 186.7,34.4 188.8,34.4 190.9,34.4 193,36.2 195.1,36.2 197.2,36.2 199.3,38 201.4,38 203.5,38 205.6,39.7 207.7,45 209.8,45 211.9,45 214.1,45 216.2,46.8 218.3,48.6 220.4,48.6 222.5,50.3 224.6,50.3 226.7,52.1 228.8,52.1 230.9,52.1 233,52.1 235.1,52.1 237.2,52.1 239.3,52.1 241.4,53.9 243.5,53.9 245.6,57.4 247.7,62.7 249.8,62.7 251.9,62.7 254,62.7 256.1,62.7 258.2,62.7 260.3,64.5 262.4,64.5 264.5,66.2 266.6,66.2 268.7,66.2 270.8,68 272.9,69.8 275,75.1 277.1,80.4 279.2,83.9 281.3,85.7 283.4,85.7 285.5,87.4 287.6,89.2 289.7,91 291.8,92.7 293.9,94.5 296,96.3 298.1,96.3 300.2,101.6 302.3,105.1 304.4,108.6 306.5,113.9 308.6,119.2 310.7,126.3 312.8,131.6 314.9,135.1 317.1,138.7 319.2,147.5 321.3,154.6 323.4,159.9 325.5,165.2 327.6,172.2 329.7,179.3 331.8,184.6 333.9,189.9 336,198.7 338.1,219.9 340.2,230.5 342.3,235.8 344.4,241.1 346.5,250 348.6,260.6 350.7,269.4 352.8,274.7 354.9,278.2"/>
<g fill="#FFA500"><circle cx="54.3" cy="15" r="1.9"/><circle cx="56.4" cy="15" r="1.9"/><circle cx="58.5" cy="15" r="1.9"/><circle cx="60.6" cy="15" r="1.9"/><circle cx="62.7" cy="15" r="1.9"/><circle cx="64.8" cy="15" r="1.9"/><circle cx="66.9" cy="15" r="1.9"/><circle cx="69" cy="15" r="1.9"/><circle cx="71.1" cy="16.8" r="1.9"/><circle cx="73.2" cy="16.8" r="1.9"/><circle cx="75.3" cy="16.8" r="1.9"/><circle cx="77.4" cy="16.8" r="1.9"/><circle cx="79.5" cy="16.8" r="1.9"/><circle cx="81.6" cy="16.8" r="1.9"/><circle cx="83.7" cy="16.8" r="1.9"/><circle cx="85.8" cy="16.8" r="1.9"/><circle cx="87.9" cy="16.8" r="1.9"/><circle cx="90" cy="16.8" r="1.9"/><circle cx="92.1" cy="18.5" r="1.9"/><circle cx="94.2" cy="18.5" r="1.9"/><circle cx="96.3" cy="18.5" r="1.9"/><circle cx="98.4" cy="18.5" r="1.9"/><circle cx="100.5" cy="18.5" r="1.9"/><circle cx="102.6" cy="20.3" r="1.9"/><circle cx="104.7" cy="22.1" r="1.9"/><circle cx="106.8" cy="22.1" r="1.9"/><circle cx="109" cy="22.1" r="1.9"/><circle cx="111.1" cy="22.1" r="1.9"/><circle cx="113.2" cy="22.1" r="1.9"/><circle cx="115.3" cy="22.1" r="1.9"/><circle cx="117.4" cy="22.1" r="1.9"/><circle cx="119.5" cy="22.1" r="1.9"/><circle cx="121.6" cy="22.1" r="1.9"/><circle cx="123.7" cy="22.1" r="1.9"/><circle cx="125.8" cy="22.1" r="1.9"/><circle cx="127.9" cy="22.1" r="1.9"/><circle cx="130" cy="22.1" r="1.9"/><circle cx="132.1" cy="22.1" r="1.9"/><circle cx="134.2" cy="22.1" r="1.9"/><circle cx="136.3" cy="22.1" r="1.9"/><circle cx="138.4" cy="22.1" r="1.9"/><circle cx="140.5" cy="22.1" r="1.9"/><circle cx="142.6" cy="22.1" r="1.9"/><circle cx="144.7" cy="22.1" r="1.9"/><circle cx="146.8" cy="22.1" r="1.9"/><circle cx="148.9" cy="22.1" r="1.9"/><circle cx="151" cy="23.8" r="1.9"/><circle cx="153.1" cy="23.8" r="1.9"/><circle cx="155.2" cy="23.8" r="1.9"/><circle cx="157.3" cy="25.6" r="1.9"/><circle cx="159.4" cy="25.6" r="1.9"/><circle cx="161.5" cy="25.6" r="1.9"/><circle cx="163.6" cy="25.6" r="1.9"/><circle cx="165.7" cy="25.6" r="1.9"/><circle cx="167.8" cy="25.6" r="1.9"/><circle cx="169.9" cy="25.6" r="1.9"/><circle cx="172" cy="25.6" r="1.9"/><circle cx="174.1" cy="29.1" r="1.9"/><circle cx="176.2" cy="30.9" r="1.9"/><circle cx="178.3" cy="32.7" r="1.9"/><circle cx="180.4" cy="32.7" r="1.9"/><circle cx="182.5" cy="32.7" r="1.9"/><circle cx="184.6" cy="34.4" r="1.9"/><circle cx="186.7" cy="34.4" r="1.9"/><circle cx="188.8" cy="34.4" r="1.9"/><circle cx="190.9" cy="34.4" r="1.9"/><circle cx="193" cy="36.2" r="1.9"/><circle cx="195.1" cy="36.2" r="1.9"/><circle cx="197.2" cy="36.2" r="1.9"/><circle cx="199.3" cy="38" r="1.9"/><circle cx="201.4" cy="38" r="1.9"/><circle cx="203.5" cy="38" r="1.9"/><circle cx="205.6" cy="39.7" r="1.9"/><circle cx="207.7" cy="45" r="1.9"/><circle cx="209.8" cy="45" r="1.9"/><circle cx="211.9" cy="45" r="1.9"/><circle cx="214.1" cy="45" r="1.9"/><circle cx="216.2" cy="46.8" r="1.9"/><circle cx="218.3" cy="48.6" r="1.9"/><circle cx="220.4" cy="48.6" r="1.9"/><circle cx="222.5" cy="50.3" r="1.9"/><circle cx="224.6" cy="50.3" r="1.9"/><circle cx="226.7" cy="52.1" r="1.9"/><circle cx="228.8" cy="52.1" r="1.9"/><circle cx="230.9" cy="52.1" r="1.9"/><circle cx="233" cy="52.1" r="1.9"/><circle cx="235.1" cy="52.1" r="1.9"/><circle cx="237.2" cy="52.1" r="1.9"/><circle cx="239.3" cy="52.1" r="1.9"/><circle cx="241.4" cy="53.9" r="1.9"/><circle cx="243.5" cy="53.9" r="1.9"/><circle cx="245.6" cy="57.4" r="1.9"/><circle cx="247.7" cy="62.7" r="1.9"/><circle cx="249.8" cy="62.7" r="1.9"/><circle cx="251.9" cy="62.7" r="1.9"/><circle cx="254" cy="62.7" r="1.9"/><circle cx="256.1" cy="62.7" r="1.9"/><circle cx="258.2" cy="62.7" r="1.9"/><circle cx="260.3" cy="64.5" r="1.9"/><circle cx="262.4" cy="64.5" r="1.9"/><circle cx="264.5" cy="66.2" r="1.9"/><circle cx="266.6" cy="66.2" r="1.9"/><circle cx="268.7" cy="66.2" r="1.9"/><circle cx="270.8" cy="68" r="1.9"/><circle cx="272.9" cy="69.8" r="1.9"/><circle cx="275" cy="75.1" r="1.9"/><circle cx="277.1" cy="80.4" r="1.9"/><circle cx="279.2" cy="83.9" r="1.9"/><circle cx="281.3" cy="85.7" r="1.9"/><circle cx="283.4" cy="85.7" r="1.9"/><circle cx="285.5" cy="87.4" r="1.9"/><circle cx="287.6" cy="89.2" r="1.9"/><circle cx="289.7" cy="91" r="1.9"/><circle cx="291.8" cy="92.7" r="1.9"/><circle cx="293.9" cy="94.5" r="1.9"/><circle cx="296" cy="96.3" r="1.9"/><circle cx="298.1" cy="96.3" r="1.9"/><circle cx="300.2" cy="101.6" r="1.9"/><circle cx="302.3" cy="105.1" r="1.9"/><circle cx="304.4" cy="108.6" r="1.9"/><circle cx="306.5" cy="113.9" r="1.9"/><circle cx="308.6" cy="119.2" r="1.9"/><circle cx="310.7" cy="126.3" r="1.9"/><circle cx="312.8" cy="131.6" r="1.9"/><circle cx="314.9" cy="135.1" r="1.9"/><circle cx="317.1" cy="138.7" r="1.9"/><circle cx="319.2" cy="147.5" r="1.9"/><circle cx="321.3" cy="154.6" r="1.9"/><circle cx="323.4" cy="159.9" r="1.9"/><circle cx="325.5" cy="165.2" r="1.9"/><circle cx="327.6" cy="172.2" r="1.9"/><circle cx="329.7" cy="179.3" r="1.9"/><circle cx="331.8" cy="184.6" r="1.9"/><circle cx="333.9" cy="189.9" r="1.9"/><circle cx="336" cy="198.7" r="1.9"/><circle cx="338.1" cy="219.9" r="1.9"/><circle cx="340.2" cy="230.5" r="1.9"/><circle cx="342.3" cy="235.8" r="1.9"/><circle cx="344.4" cy="241.1" r="1.9"/><circle cx="346.5" cy="250" r="1.9"/><circle cx="348.6" cy="260.6" r="1.9"/><circle cx="350.7" cy="269.4" r="1.9"/><circle cx="352.8" cy="274.7" r="1.9"/><circle cx="354.9" cy="278.2" r="1.9"/></g>
</g>
<clipPath id="ca"><rect x="42.5" y="4.5" width="340" height="286"/></clipPath>
<line x1="264.6" y1="290.5" x2="264.6" y2="4.5" stroke="#d11f26" stroke-width="1.4" stroke-dasharray="4.2 3.76"/>
<line x1="345.7" y1="13.3" x2="355.9" y2="13.3" stroke="#FFA500" stroke-width="1.3"/>
<circle cx="350.6" cy="13.3" r="1.7" fill="#FFA500"/>
<text transform="translate(359.4,16.2) scale(1,1.15)" style="font-size:6.45px;fill:#64647a;stroke:#64647a;stroke-width:0.12px">T=0.3</text>
<line x1="345.7" y1="19.4" x2="355.9" y2="19.4" stroke="#A020F0" stroke-width="1.3"/>
<circle cx="350.6" cy="19.4" r="1.7" fill="#A020F0"/>
<text transform="translate(359.4,22.2) scale(1,1.15)" style="font-size:6.45px;fill:#64647a;stroke:#64647a;stroke-width:0.12px">T=0.4</text>
<line x1="345.7" y1="25.4" x2="355.9" y2="25.4" stroke="#FFC0CB" stroke-width="1.3"/>
<circle cx="350.6" cy="25.4" r="1.7" fill="#FFC0CB"/>
<text transform="translate(359.4,28.3) scale(1,1.15)" style="font-size:6.45px;fill:#64647a;stroke:#64647a;stroke-width:0.12px">T=0.5</text>
<line x1="345.7" y1="31.4" x2="355.9" y2="31.4" stroke="#FF0000" stroke-width="1.3"/>
<circle cx="350.6" cy="31.4" r="1.7" fill="#FF0000"/>
<text transform="translate(359.4,34.4) scale(1,1.15)" style="font-size:6.45px;fill:#64647a;stroke:#64647a;stroke-width:0.12px">T=0.6</text>
<line x1="345.7" y1="37.5" x2="355.9" y2="37.5" stroke="#A01A1A" stroke-width="1.3"/>
<circle cx="350.6" cy="37.5" r="1.7" fill="#A01A1A"/>
<text transform="translate(359.4,40.4) scale(1,1.15)" style="font-size:6.45px;fill:#64647a;stroke:#64647a;stroke-width:0.12px">T=0.65</text>
<line x1="345.7" y1="43.5" x2="355.9" y2="43.5" stroke="#228B22" stroke-width="1.3"/>
<circle cx="350.6" cy="43.5" r="1.7" fill="#228B22"/>
<text transform="translate(359.4,46.4) scale(1,1.15)" style="font-size:6.45px;fill:#64647a;stroke:#64647a;stroke-width:0.12px">T=0.7</text>
<line x1="345.7" y1="49.6" x2="355.9" y2="49.6" stroke="#4169E1" stroke-width="1.3"/>
<circle cx="350.6" cy="49.6" r="1.7" fill="#4169E1"/>
<text transform="translate(359.4,52.5) scale(1,1.15)" style="font-size:6.45px;fill:#64647a;stroke:#64647a;stroke-width:0.12px">T=0.75</text>
<line x1="345.7" y1="55.7" x2="355.9" y2="55.7" stroke="#0000EE" stroke-width="1.3"/>
<circle cx="350.6" cy="55.7" r="1.7" fill="#0000EE"/>
<text transform="translate(359.4,58.6) scale(1,1.15)" style="font-size:6.45px;fill:#64647a;stroke:#64647a;stroke-width:0.12px">T=0.8</text>
<rect x="42.3" y="4.9" width="339.9" height="285.7" fill="none" stroke="#6e6e6e" stroke-width="1.05"/>
<text x="399.5" y="19.5" style="font-size:20px;font-weight:bold;fill:#0b0b3a">b</text>
<line x1="437" y1="15.2" x2="441.5" y2="15.2" stroke="#6e6e6e" stroke-width="1"/>
<text transform="translate(431.3,14.7) rotate(-90)" text-anchor="middle" style="font-size:7.4px;fill:#262630">10<tspan dy="-4.4" style="font-size:5.4px">0</tspan></text>
<line x1="437" y1="76" x2="441.5" y2="76" stroke="#6e6e6e" stroke-width="1"/>
<text transform="translate(431.3,75.5) rotate(-90)" text-anchor="middle" style="font-size:7.4px;fill:#262630">10<tspan dy="-4.4" style="font-size:5.4px">-0.5</tspan></text>
<line x1="437" y1="136.7" x2="441.5" y2="136.7" stroke="#6e6e6e" stroke-width="1"/>
<text transform="translate(431.3,136.2) rotate(-90)" text-anchor="middle" style="font-size:7.4px;fill:#262630">10<tspan dy="-4.4" style="font-size:5.4px">-1</tspan></text>
<line x1="437" y1="197.4" x2="441.5" y2="197.4" stroke="#6e6e6e" stroke-width="1"/>
<text transform="translate(431.3,196.9) rotate(-90)" text-anchor="middle" style="font-size:7.4px;fill:#262630">10<tspan dy="-4.4" style="font-size:5.4px">-1.5</tspan></text>
<line x1="437" y1="258.2" x2="441.5" y2="258.2" stroke="#6e6e6e" stroke-width="1"/>
<text transform="translate(431.3,257.7) rotate(-90)" text-anchor="middle" style="font-size:7.4px;fill:#262630">10<tspan dy="-4.4" style="font-size:5.4px">-2</tspan></text>
<line x1="454.1" y1="290.5" x2="454.1" y2="295.2" stroke="#6e6e6e" stroke-width="1"/>
<text transform="translate(453.9,308) scale(1,1.1)" text-anchor="middle" style="font-size:7.4px;fill:#262630">10<tspan dy="-4.3" style="font-size:5.4px">0</tspan></text>
<line x1="526.4" y1="290.5" x2="526.4" y2="295.2" stroke="#6e6e6e" stroke-width="1"/>
<text transform="translate(526.2,308) scale(1,1.1)" text-anchor="middle" style="font-size:7.4px;fill:#262630">10<tspan dy="-4.3" style="font-size:5.4px">0.5</tspan></text>
<line x1="598.7" y1="290.5" x2="598.7" y2="295.2" stroke="#6e6e6e" stroke-width="1"/>
<text transform="translate(598.5,308) scale(1,1.1)" text-anchor="middle" style="font-size:7.4px;fill:#262630">10<tspan dy="-4.3" style="font-size:5.4px">1</tspan></text>
<line x1="670.9" y1="290.5" x2="670.9" y2="295.2" stroke="#6e6e6e" stroke-width="1"/>
<text transform="translate(670.7,308) scale(1,1.1)" text-anchor="middle" style="font-size:7.4px;fill:#262630">10<tspan dy="-4.3" style="font-size:5.4px">1.5</tspan></text>
<line x1="743.2" y1="290.5" x2="743.2" y2="295.2" stroke="#6e6e6e" stroke-width="1"/>
<text transform="translate(743,308) scale(1,1.1)" text-anchor="middle" style="font-size:7.4px;fill:#262630">10<tspan dy="-4.3" style="font-size:5.4px">2</tspan></text>
<text transform="translate(612,328.3) scale(1,1.12)" text-anchor="middle" class="l" style="font-size:8px;fill:#262630">Degree</text>
<text transform="translate(413.2,147.6) rotate(-90)" text-anchor="middle" class="l" style="font-size:8px;fill:#262630">Degree distribution</text>
<g clip-path="url(#cb)">
<polyline fill="none" stroke="#FFA500" stroke-width="1.05" stroke-linejoin="round" points="454.1,15.2 497.6,15.2 523.1,15.2 541.1,15.2 555.1,15.2 566.6,15.3 576.3,15.3 584.6,15.4 592,15.5 598.7,15.6 604.6,15.6 610.1,15.6 615.1,15.6 619.8,15.6 624.1,15.6 628.2,15.6 632,15.7 635.5,15.8 638.9,15.8 642.2,15.9 645.2,16 648.1,16.1 650.9,16.3 653.6,16.4 656.2,16.6 658.6,16.6 661,16.6 663.3,16.6 665.5,16.6 667.6,16.6 669.7,16.6 671.7,16.6 673.6,16.6 675.5,16.6 677.3,16.6 679.1,16.6 680.8,16.6 682.5,16.6 684.1,16.6 685.7,16.6 687.2,16.6 688.7,16.6 690.2,16.6 691.7,16.7 693.1,16.8 694.5,16.8 695.8,17 697.1,17.1 698.4,17.2 699.7,17.3 700.9,17.4 702.1,17.4 703.3,17.4 704.5,17.4 705.7,17.5 706.8,17.7 707.9,18 709,18.3 710.1,18.6 711.1,18.8 712.2,19 713.2,19.1 714.2,19.1 715.2,19.3 716.2,19.4 717.1,19.4 718.1,19.6 719,19.8 719.9,19.8 720.8,20 721.7,20.4 722.6,20.7 723.4,21 724.3,21.3 725.1,21.6 726,21.8 726.8,21.9 727.6,22.2 728.4,22.4 729.2,22.7 730,22.8 730.7,23 731.5,23.1 732.3,23.2 733,23.2 733.7,23.2 734.5,23.2 735.2,23.3 735.9,23.6 736.6,24.1 737.3,24.6 738,25 738.6,25.4 739.3,25.7 740,25.7 740.6,25.8 741.3,25.8 741.9,26 742.6,26.2 743.2,26.4 743.8,26.5 744.4,26.8 745.1,27.2 745.7,28 746.3,28.9 746.9,29.8 747.4,30.6 748,31.3 748.6,31.8 749.2,32.1 749.8,32.5 750.3,33 750.9,33.5 751.4,33.9 752,34.5 752.5,35.3 753.1,36.1 753.6,37.2 754.1,38.6 754.6,40.1 755.2,41.9 755.7,43.6 756.2,45.3 756.7,47.4 757.2,49.5 757.7,51.8 758.2,54.2 758.7,57.1 759.2,60 759.7,62.9 760.2,65.9 760.6,69.5 761.1,75.7 761.6,83.2 762,91.3 762.5,100.2 763,110.7 763.4,122.6 763.9,138.9 764.3,161.3 764.8,193.9 765.2,209.8 765.7,279.6"/>
<g fill="#FFA500"><circle cx="454.1" cy="15.2" r="1.7"/><circle cx="497.6" cy="15.2" r="1.7"/><circle cx="523.1" cy="15.2" r="1.7"/><circle cx="541.1" cy="15.2" r="1.7"/><circle cx="555.1" cy="15.2" r="1.7"/><circle cx="566.6" cy="15.2" r="1.7"/><circle cx="576.3" cy="15.2" r="1.7"/><circle cx="584.6" cy="15.6" r="1.7"/><circle cx="592" cy="15.6" r="1.7"/><circle cx="598.7" cy="15.6" r="1.7"/><circle cx="604.6" cy="15.6" r="1.7"/><circle cx="610.1" cy="15.6" r="1.7"/><circle cx="615.1" cy="15.6" r="1.7"/><circle cx="619.8" cy="15.6" r="1.7"/><circle cx="624.1" cy="15.6" r="1.7"/><circle cx="628.2" cy="15.6" r="1.7"/><circle cx="632" cy="15.6" r="1.7"/><circle cx="635.5" cy="15.9" r="1.7"/><circle cx="638.9" cy="15.9" r="1.7"/><circle cx="642.2" cy="15.9" r="1.7"/><circle cx="645.2" cy="15.9" r="1.7"/><circle cx="648.1" cy="15.9" r="1.7"/><circle cx="650.9" cy="16.3" r="1.7"/><circle cx="653.6" cy="16.6" r="1.7"/><circle cx="656.2" cy="16.6" r="1.7"/><circle cx="658.6" cy="16.6" r="1.7"/><circle cx="661" cy="16.6" r="1.7"/><circle cx="663.3" cy="16.6" r="1.7"/><circle cx="665.5" cy="16.6" r="1.7"/><circle cx="667.6" cy="16.6" r="1.7"/><circle cx="669.7" cy="16.6" r="1.7"/><circle cx="671.7" cy="16.6" r="1.7"/><circle cx="673.6" cy="16.6" r="1.7"/><circle cx="675.5" cy="16.6" r="1.7"/><circle cx="677.3" cy="16.6" r="1.7"/><circle cx="679.1" cy="16.6" r="1.7"/><circle cx="680.8" cy="16.6" r="1.7"/><circle cx="682.5" cy="16.6" r="1.7"/><circle cx="684.1" cy="16.6" r="1.7"/><circle cx="685.7" cy="16.6" r="1.7"/><circle cx="687.2" cy="16.6" r="1.7"/><circle cx="688.7" cy="16.6" r="1.7"/><circle cx="690.2" cy="16.6" r="1.7"/><circle cx="691.7" cy="16.6" r="1.7"/><circle cx="693.1" cy="16.6" r="1.7"/><circle cx="694.5" cy="17" r="1.7"/><circle cx="695.8" cy="17" r="1.7"/><circle cx="697.1" cy="17" r="1.7"/><circle cx="698.4" cy="17.4" r="1.7"/><circle cx="699.7" cy="17.4" r="1.7"/><circle cx="700.9" cy="17.4" r="1.7"/><circle cx="702.1" cy="17.4" r="1.7"/><circle cx="703.3" cy="17.4" r="1.7"/><circle cx="704.5" cy="17.4" r="1.7"/><circle cx="705.7" cy="17.4" r="1.7"/><circle cx="706.8" cy="17.4" r="1.7"/><circle cx="707.9" cy="18.1" r="1.7"/><circle cx="709" cy="18.5" r="1.7"/><circle cx="710.1" cy="18.8" r="1.7"/><circle cx="711.1" cy="18.8" r="1.7"/><circle cx="712.2" cy="18.8" r="1.7"/><circle cx="713.2" cy="19.2" r="1.7"/><circle cx="714.2" cy="19.2" r="1.7"/><circle cx="715.2" cy="19.2" r="1.7"/><circle cx="716.2" cy="19.2" r="1.7"/><circle cx="717.1" cy="19.6" r="1.7"/><circle cx="718.1" cy="19.6" r="1.7"/><circle cx="719" cy="19.6" r="1.7"/><circle cx="719.9" cy="20" r="1.7"/><circle cx="720.8" cy="20" r="1.7"/><circle cx="721.7" cy="20" r="1.7"/><circle cx="722.6" cy="20.4" r="1.7"/><circle cx="723.4" cy="21.5" r="1.7"/><circle cx="724.3" cy="21.5" r="1.7"/><circle cx="725.1" cy="21.5" r="1.7"/><circle cx="726" cy="21.5" r="1.7"/><circle cx="726.8" cy="21.9" r="1.7"/><circle cx="727.6" cy="22.3" r="1.7"/><circle cx="728.4" cy="22.3" r="1.7"/><circle cx="729.2" cy="22.8" r="1.7"/><circle cx="730" cy="22.8" r="1.7"/><circle cx="730.7" cy="23.2" r="1.7"/><circle cx="731.5" cy="23.2" r="1.7"/><circle cx="732.3" cy="23.2" r="1.7"/><circle cx="733" cy="23.2" r="1.7"/><circle cx="733.7" cy="23.2" r="1.7"/><circle cx="734.5" cy="23.2" r="1.7"/><circle cx="735.2" cy="23.2" r="1.7"/><circle cx="735.9" cy="23.6" r="1.7"/><circle cx="736.6" cy="23.6" r="1.7"/><circle cx="737.3" cy="24.4" r="1.7"/><circle cx="738" cy="25.7" r="1.7"/><circle cx="738.6" cy="25.7" r="1.7"/><circle cx="739.3" cy="25.7" r="1.7"/><circle cx="740" cy="25.7" r="1.7"/><circle cx="740.6" cy="25.7" r="1.7"/><circle cx="741.3" cy="25.7" r="1.7"/><circle cx="741.9" cy="26.1" r="1.7"/><circle cx="742.6" cy="26.1" r="1.7"/><circle cx="743.2" cy="26.5" r="1.7"/><circle cx="743.8" cy="26.5" r="1.7"/><circle cx="744.4" cy="26.5" r="1.7"/><circle cx="745.1" cy="27" r="1.7"/><circle cx="745.7" cy="27.4" r="1.7"/><circle cx="746.3" cy="28.8" r="1.7"/><circle cx="746.9" cy="30.1" r="1.7"/><circle cx="747.4" cy="31.1" r="1.7"/><circle cx="748" cy="31.6" r="1.7"/><circle cx="748.6" cy="31.6" r="1.7"/><circle cx="749.2" cy="32" r="1.7"/><circle cx="749.8" cy="32.5" r="1.7"/><circle cx="750.3" cy="33" r="1.7"/><circle cx="750.9" cy="33.5" r="1.7"/><circle cx="751.4" cy="34" r="1.7"/><circle cx="752" cy="34.5" r="1.7"/><circle cx="752.5" cy="34.5" r="1.7"/><circle cx="753.1" cy="36.1" r="1.7"/><circle cx="753.6" cy="37.1" r="1.7"/><circle cx="754.1" cy="38.2" r="1.7"/><circle cx="754.6" cy="39.9" r="1.7"/><circle cx="755.2" cy="41.6" r="1.7"/><circle cx="755.7" cy="43.9" r="1.7"/><circle cx="756.2" cy="45.8" r="1.7"/><circle cx="756.7" cy="47.1" r="1.7"/><circle cx="757.2" cy="48.4" r="1.7"/><circle cx="757.7" cy="51.8" r="1.7"/><circle cx="758.2" cy="54.7" r="1.7"/><circle cx="758.7" cy="56.9" r="1.7"/><circle cx="759.2" cy="59.3" r="1.7"/><circle cx="759.7" cy="62.7" r="1.7"/><circle cx="760.2" cy="66.3" r="1.7"/><circle cx="760.6" cy="69.1" r="1.7"/><circle cx="761.1" cy="72.1" r="1.7"/><circle cx="761.6" cy="77.6" r="1.7"/><circle cx="762" cy="93.5" r="1.7"/><circle cx="762.5" cy="103.8" r="1.7"/><circle cx="763" cy="109.7" r="1.7"/><circle cx="763.4" cy="116.5" r="1.7"/><circle cx="763.9" cy="130.1" r="1.7"/><circle cx="764.3" cy="153.1" r="1.7"/><circle cx="764.8" cy="185" r="1.7"/><circle cx="765.2" cy="221.6" r="1.7"/><circle cx="765.7" cy="279.6" r="1.7"/></g>
<polyline fill="none" stroke="#A020F0" stroke-width="1.05" stroke-linejoin="round" points="454.1,14.6 497.6,15.1 523.1,15.2 541.1,15.3 555.1,15.3 566.6,15.4 576.3,15.5 584.6,15.5 592,15.6 598.7,15.7 604.6,15.7 610.1,15.8 615.1,15.9 619.8,16 624.1,16.2 628.2,16.4 632,16.7 635.5,17.1 638.9,17.3 642.2,17.6 645.2,17.8 648.1,17.9 650.9,17.9 653.6,17.9 656.2,18.1 658.6,18.2 661,18.5 663.3,18.7 665.5,18.9 667.6,19.1 669.7,19.2 671.7,19.4 673.6,19.5 675.5,19.6 677.3,19.7 679.1,19.8 680.8,19.9 682.5,20 684.1,20.1 685.7,20.2 687.2,20.2 688.7,20.2 690.2,20.2 691.7,20.4 693.1,20.6 694.5,21 695.8,21.3 697.1,21.7 698.4,21.9 699.7,22.2 700.9,22.3 702.1,22.4 703.3,22.6 704.5,22.9 705.7,23.1 706.8,23.4 707.9,23.6 709,23.7 710.1,23.8 711.1,23.8 712.2,23.9 713.2,24 714.2,24.1 715.2,24.1 716.2,24.2 717.1,24.2 718.1,24.4 719,24.6 719.9,25 720.8,25.4 721.7,26 722.6,26.5 723.4,26.9 724.3,27.3 725.1,27.6 726,27.8 726.8,28.1 727.6,28.4 728.4,28.9 729.2,29.4 730,29.9 730.7,30.5 731.5,31 732.3,31.5 733,31.8 733.7,32.2 734.5,32.7 735.2,33.2 735.9,33.7 736.6,34.3 737.3,35 738,35.6 738.6,36.2 739.3,37 740,37.8 740.6,38.6 741.3,39.3 741.9,40.1 742.6,41 743.2,41.8 743.8,42.8 744.4,43.8 745.1,45.1 745.7,46.2 746.3,47.5 746.9,49.2 747.4,50.8 748,52.5 748.6,54.4 749.2,56.4 749.8,58.3 750.3,60.5 750.9,62.7 751.4,64.8 752,67.1 752.5,70.3 753.1,73.7 753.6,77.3 754.1,81.4 754.6,86 755.2,89.9 755.7,94.6 756.2,100.2 756.7,106.4 757.2,116.2 757.7,128.1 758.2,139.7 758.7,153.9 759.2,170.9 759.7,177.7 760.2,206.4"/>
<g fill="#A020F0"><circle cx="454.1" cy="15.2" r="1.7"/><circle cx="497.6" cy="15.9" r="1.7"/><circle cx="523.1" cy="15.9" r="1.7"/><circle cx="541.1" cy="15.9" r="1.7"/><circle cx="555.1" cy="15.9" r="1.7"/><circle cx="566.6" cy="15.9" r="1.7"/><circle cx="576.3" cy="15.9" r="1.7"/><circle cx="584.6" cy="16.3" r="1.7"/><circle cx="592" cy="16.3" r="1.7"/><circle cx="598.7" cy="16.3" r="1.7"/><circle cx="604.6" cy="16.3" r="1.7"/><circle cx="610.1" cy="16.3" r="1.7"/><circle cx="615.1" cy="16.6" r="1.7"/><circle cx="619.8" cy="16.6" r="1.7"/><circle cx="624.1" cy="16.6" r="1.7"/><circle cx="628.2" cy="17" r="1.7"/><circle cx="632" cy="17" r="1.7"/><circle cx="635.5" cy="17.7" r="1.7"/><circle cx="638.9" cy="18.1" r="1.7"/><circle cx="642.2" cy="18.5" r="1.7"/><circle cx="645.2" cy="18.5" r="1.7"/><circle cx="648.1" cy="18.5" r="1.7"/><circle cx="650.9" cy="18.5" r="1.7"/><circle cx="653.6" cy="18.5" r="1.7"/><circle cx="656.2" cy="18.5" r="1.7"/><circle cx="658.6" cy="18.8" r="1.7"/><circle cx="661" cy="19.2" r="1.7"/><circle cx="663.3" cy="19.2" r="1.7"/><circle cx="665.5" cy="19.6" r="1.7"/><circle cx="667.6" cy="19.6" r="1.7"/><circle cx="669.7" cy="20" r="1.7"/><circle cx="671.7" cy="20" r="1.7"/><circle cx="673.6" cy="20" r="1.7"/><circle cx="675.5" cy="20.4" r="1.7"/><circle cx="677.3" cy="20.4" r="1.7"/><circle cx="679.1" cy="20.4" r="1.7"/><circle cx="680.8" cy="20.4" r="1.7"/><circle cx="682.5" cy="20.8" r="1.7"/><circle cx="684.1" cy="20.8" r="1.7"/><circle cx="685.7" cy="20.8" r="1.7"/><circle cx="687.2" cy="20.8" r="1.7"/><circle cx="688.7" cy="20.8" r="1.7"/><circle cx="690.2" cy="20.8" r="1.7"/><circle cx="691.7" cy="20.8" r="1.7"/><circle cx="693.1" cy="21.2" r="1.7"/><circle cx="694.5" cy="21.5" r="1.7"/><circle cx="695.8" cy="21.9" r="1.7"/><circle cx="697.1" cy="22.3" r="1.7"/><circle cx="698.4" cy="22.8" r="1.7"/><circle cx="699.7" cy="22.8" r="1.7"/><circle cx="700.9" cy="22.8" r="1.7"/><circle cx="702.1" cy="23.2" r="1.7"/><circle cx="703.3" cy="23.2" r="1.7"/><circle cx="704.5" cy="23.2" r="1.7"/><circle cx="705.7" cy="24" r="1.7"/><circle cx="706.8" cy="24" r="1.7"/><circle cx="707.9" cy="24.4" r="1.7"/><circle cx="709" cy="24.4" r="1.7"/><circle cx="710.1" cy="24.4" r="1.7"/><circle cx="711.1" cy="24.4" r="1.7"/><circle cx="712.2" cy="24.4" r="1.7"/><circle cx="713.2" cy="24.4" r="1.7"/><circle cx="714.2" cy="24.8" r="1.7"/><circle cx="715.2" cy="24.8" r="1.7"/><circle cx="716.2" cy="24.8" r="1.7"/><circle cx="717.1" cy="24.8" r="1.7"/><circle cx="718.1" cy="24.8" r="1.7"/><circle cx="719" cy="24.8" r="1.7"/><circle cx="719.9" cy="25.7" r="1.7"/><circle cx="720.8" cy="26.1" r="1.7"/><circle cx="721.7" cy="26.5" r="1.7"/><circle cx="722.6" cy="27" r="1.7"/><circle cx="723.4" cy="27.9" r="1.7"/><circle cx="724.3" cy="27.9" r="1.7"/><circle cx="725.1" cy="28.3" r="1.7"/><circle cx="726" cy="28.3" r="1.7"/><circle cx="726.8" cy="28.8" r="1.7"/><circle cx="727.6" cy="28.8" r="1.7"/><circle cx="728.4" cy="29.2" r="1.7"/><circle cx="729.2" cy="30.1" r="1.7"/><circle cx="730" cy="30.6" r="1.7"/><circle cx="730.7" cy="31.1" r="1.7"/><circle cx="731.5" cy="31.6" r="1.7"/><circle cx="732.3" cy="32" r="1.7"/><circle cx="733" cy="32.5" r="1.7"/><circle cx="733.7" cy="33" r="1.7"/><circle cx="734.5" cy="33" r="1.7"/><circle cx="735.2" cy="33.5" r="1.7"/><circle cx="735.9" cy="34.5" r="1.7"/><circle cx="736.6" cy="35" r="1.7"/><circle cx="737.3" cy="35.6" r="1.7"/><circle cx="738" cy="36.1" r="1.7"/><circle cx="738.6" cy="36.6" r="1.7"/><circle cx="739.3" cy="37.7" r="1.7"/><circle cx="740" cy="38.2" r="1.7"/><circle cx="740.6" cy="39.3" r="1.7"/><circle cx="741.3" cy="40.4" r="1.7"/><circle cx="741.9" cy="40.4" r="1.7"/><circle cx="742.6" cy="41" r="1.7"/><circle cx="743.2" cy="42.2" r="1.7"/><circle cx="743.8" cy="43.9" r="1.7"/><circle cx="744.4" cy="44.6" r="1.7"/><circle cx="745.1" cy="45.2" r="1.7"/><circle cx="745.7" cy="46.4" r="1.7"/><circle cx="746.3" cy="48.4" r="1.7"/><circle cx="746.9" cy="49.7" r="1.7"/><circle cx="747.4" cy="51.1" r="1.7"/><circle cx="748" cy="53.2" r="1.7"/><circle cx="748.6" cy="54.7" r="1.7"/><circle cx="749.2" cy="56.9" r="1.7"/><circle cx="749.8" cy="59.3" r="1.7"/><circle cx="750.3" cy="61" r="1.7"/><circle cx="750.9" cy="62.7" r="1.7"/><circle cx="751.4" cy="65.3" r="1.7"/><circle cx="752" cy="68.1" r="1.7"/><circle cx="752.5" cy="70.1" r="1.7"/><circle cx="753.1" cy="72.1" r="1.7"/><circle cx="753.6" cy="78.7" r="1.7"/><circle cx="754.1" cy="82.4" r="1.7"/><circle cx="754.6" cy="86.3" r="1.7"/><circle cx="755.2" cy="90.5" r="1.7"/><circle cx="755.7" cy="95.1" r="1.7"/><circle cx="756.2" cy="98.4" r="1.7"/><circle cx="756.7" cy="105.7" r="1.7"/><circle cx="757.2" cy="114.1" r="1.7"/><circle cx="757.7" cy="121.5" r="1.7"/><circle cx="758.2" cy="144.3" r="1.7"/><circle cx="758.7" cy="158.1" r="1.7"/><circle cx="759.2" cy="163.7" r="1.7"/><circle cx="759.7" cy="185" r="1.7"/><circle cx="760.2" cy="206.4" r="1.7"/></g>
<polyline fill="none" stroke="#FFC0CB" stroke-width="1.05" stroke-linejoin="round" points="454.1,16 497.6,16.5 523.1,16.8 541.1,17.3 555.1,17.9 566.6,18.4 576.3,18.8 584.6,19.1 592,19.3 598.7,19.4 604.6,19.5 610.1,19.8 615.1,20.1 619.8,20.4 624.1,20.7 628.2,21 632,21.2 635.5,21.5 638.9,21.8 642.2,22 645.2,22.3 648.1,22.5 650.9,22.7 653.6,22.9 656.2,23 658.6,23.1 661,23.2 663.3,23.3 665.5,23.4 667.6,23.4 669.7,23.6 671.7,23.9 673.6,24.2 675.5,24.5 677.3,24.9 679.1,25.3 680.8,25.6 682.5,25.9 684.1,26.2 685.7,26.3 687.2,26.6 688.7,26.8 690.2,27 691.7,27.3 693.1,27.7 694.5,28.1 695.8,28.6 697.1,29.1 698.4,29.7 699.7,30.1 700.9,30.7 702.1,31.2 703.3,31.6 704.5,31.9 705.7,32.4 706.8,32.8 707.9,33.3 709,33.7 710.1,34 711.1,34.2 712.2,34.5 713.2,34.9 714.2,35.5 715.2,36.2 716.2,36.9 717.1,37.7 718.1,38.5 719,39.3 719.9,40.3 720.8,41.3 721.7,42.3 722.6,43.3 723.4,44.1 724.3,45 725.1,45.9 726,46.9 726.8,48 727.6,49.2 728.4,50.4 729.2,51.6 730,52.8 730.7,54.3 731.5,55.8 732.3,57.2 733,58.4 733.7,59.7 734.5,60.7 735.2,62.1 735.9,63.7 736.6,65.3 737.3,67 738,68.6 738.6,70 739.3,71.2 740,72.9 740.6,75.4 741.3,77.9 741.9,80.5 742.6,83.8 743.2,87.3 743.8,90.8 744.4,94.5 745.1,98.4 745.7,102.2 746.3,106 746.9,110.3 747.4,115.9 748,122.1 748.6,131.8 749.2,141.7 749.8,151.4 750.3,162.4 750.9,176.3 751.4,189 752,195.4 752.5,221.6"/>
<g fill="#FFC0CB"><circle cx="454.1" cy="16.3" r="1.7"/><circle cx="497.6" cy="16.6" r="1.7"/><circle cx="523.1" cy="17" r="1.7"/><circle cx="541.1" cy="17.4" r="1.7"/><circle cx="555.1" cy="18.1" r="1.7"/><circle cx="566.6" cy="18.8" r="1.7"/><circle cx="576.3" cy="19.6" r="1.7"/><circle cx="584.6" cy="19.6" r="1.7"/><circle cx="592" cy="19.6" r="1.7"/><circle cx="598.7" cy="19.6" r="1.7"/><circle cx="604.6" cy="19.6" r="1.7"/><circle cx="610.1" cy="20" r="1.7"/><circle cx="615.1" cy="20.4" r="1.7"/><circle cx="619.8" cy="20.8" r="1.7"/><circle cx="624.1" cy="21.2" r="1.7"/><circle cx="628.2" cy="21.2" r="1.7"/><circle cx="632" cy="21.5" r="1.7"/><circle cx="635.5" cy="21.9" r="1.7"/><circle cx="638.9" cy="21.9" r="1.7"/><circle cx="642.2" cy="22.3" r="1.7"/><circle cx="645.2" cy="22.8" r="1.7"/><circle cx="648.1" cy="22.8" r="1.7"/><circle cx="650.9" cy="23.2" r="1.7"/><circle cx="653.6" cy="23.2" r="1.7"/><circle cx="656.2" cy="23.2" r="1.7"/><circle cx="658.6" cy="23.6" r="1.7"/><circle cx="661" cy="23.6" r="1.7"/><circle cx="663.3" cy="23.6" r="1.7"/><circle cx="665.5" cy="23.6" r="1.7"/><circle cx="667.6" cy="23.6" r="1.7"/><circle cx="669.7" cy="24" r="1.7"/><circle cx="671.7" cy="24" r="1.7"/><circle cx="673.6" cy="24.4" r="1.7"/><circle cx="675.5" cy="24.8" r="1.7"/><circle cx="677.3" cy="25.2" r="1.7"/><circle cx="679.1" cy="25.7" r="1.7"/><circle cx="680.8" cy="26.1" r="1.7"/><circle cx="682.5" cy="26.1" r="1.7"/><circle cx="684.1" cy="26.5" r="1.7"/><circle cx="685.7" cy="26.5" r="1.7"/><circle cx="687.2" cy="27" r="1.7"/><circle cx="688.7" cy="27" r="1.7"/><circle cx="690.2" cy="27.4" r="1.7"/><circle cx="691.7" cy="27.4" r="1.7"/><circle cx="693.1" cy="27.9" r="1.7"/><circle cx="694.5" cy="28.3" r="1.7"/><circle cx="695.8" cy="29.2" r="1.7"/><circle cx="697.1" cy="29.2" r="1.7"/><circle cx="698.4" cy="29.7" r="1.7"/><circle cx="699.7" cy="30.6" r="1.7"/><circle cx="700.9" cy="31.1" r="1.7"/><circle cx="702.1" cy="31.6" r="1.7"/><circle cx="703.3" cy="32" r="1.7"/><circle cx="704.5" cy="32" r="1.7"/><circle cx="705.7" cy="32.5" r="1.7"/><circle cx="706.8" cy="33" r="1.7"/><circle cx="707.9" cy="34" r="1.7"/><circle cx="709" cy="34" r="1.7"/><circle cx="710.1" cy="34.5" r="1.7"/><circle cx="711.1" cy="34.5" r="1.7"/><circle cx="712.2" cy="34.5" r="1.7"/><circle cx="713.2" cy="35" r="1.7"/><circle cx="714.2" cy="35.6" r="1.7"/><circle cx="715.2" cy="36.6" r="1.7"/><circle cx="716.2" cy="37.1" r="1.7"/><circle cx="717.1" cy="38.2" r="1.7"/><circle cx="718.1" cy="38.7" r="1.7"/><circle cx="719" cy="39.3" r="1.7"/><circle cx="719.9" cy="40.4" r="1.7"/><circle cx="720.8" cy="41.6" r="1.7"/><circle cx="721.7" cy="42.7" r="1.7"/><circle cx="722.6" cy="43.9" r="1.7"/><circle cx="723.4" cy="44.6" r="1.7"/><circle cx="724.3" cy="45.2" r="1.7"/><circle cx="725.1" cy="45.8" r="1.7"/><circle cx="726" cy="47.1" r="1.7"/><circle cx="726.8" cy="48.4" r="1.7"/><circle cx="727.6" cy="49.7" r="1.7"/><circle cx="728.4" cy="50.4" r="1.7"/><circle cx="729.2" cy="51.8" r="1.7"/><circle cx="730" cy="53.2" r="1.7"/><circle cx="730.7" cy="54.7" r="1.7"/><circle cx="731.5" cy="55.4" r="1.7"/><circle cx="732.3" cy="57.7" r="1.7"/><circle cx="733" cy="59.3" r="1.7"/><circle cx="733.7" cy="60.1" r="1.7"/><circle cx="734.5" cy="61" r="1.7"/><circle cx="735.2" cy="61.8" r="1.7"/><circle cx="735.9" cy="62.7" r="1.7"/><circle cx="736.6" cy="66.3" r="1.7"/><circle cx="737.3" cy="68.1" r="1.7"/><circle cx="738" cy="69.1" r="1.7"/><circle cx="738.6" cy="70.1" r="1.7"/><circle cx="739.3" cy="71.1" r="1.7"/><circle cx="740" cy="73.2" r="1.7"/><circle cx="740.6" cy="74.2" r="1.7"/><circle cx="741.3" cy="77.6" r="1.7"/><circle cx="741.9" cy="82.4" r="1.7"/><circle cx="742.6" cy="83.6" r="1.7"/><circle cx="743.2" cy="86.3" r="1.7"/><circle cx="743.8" cy="90.5" r="1.7"/><circle cx="744.4" cy="95.1" r="1.7"/><circle cx="745.1" cy="100.1" r="1.7"/><circle cx="745.7" cy="101.9" r="1.7"/><circle cx="746.3" cy="105.7" r="1.7"/><circle cx="746.9" cy="109.7" r="1.7"/><circle cx="747.4" cy="114.1" r="1.7"/><circle cx="748" cy="121.5" r="1.7"/><circle cx="748.6" cy="130.1" r="1.7"/><circle cx="749.2" cy="136.7" r="1.7"/><circle cx="749.8" cy="158.1" r="1.7"/><circle cx="750.3" cy="163.7" r="1.7"/><circle cx="750.9" cy="169.9" r="1.7"/><circle cx="751.4" cy="185" r="1.7"/><circle cx="752" cy="206.4" r="1.7"/><circle cx="752.5" cy="221.6" r="1.7"/></g>
<polyline fill="none" stroke="#FF0000" stroke-width="1.05" stroke-linejoin="round" points="454.1,19.4 497.6,20.1 523.1,20.2 541.1,20.6 555.1,20.9 566.6,21.3 576.3,21.9 584.6,22.6 592,23.3 598.7,24.1 604.6,24.7 610.1,25.2 615.1,25.4 619.8,25.6 624.1,25.7 628.2,25.9 632,26.1 635.5,26.5 638.9,27 642.2,27.7 645.2,28.4 648.1,29.2 650.9,30.2 653.6,31.3 656.2,32.2 658.6,33 661,33.6 663.3,34 665.5,34.2 667.6,34.4 669.7,34.7 671.7,35.1 673.6,35.4 675.5,35.7 677.3,36.3 679.1,37 680.8,37.6 682.5,38.4 684.1,39.2 685.7,40 687.2,40.6 688.7,41.9 690.2,43.3 691.7,44.6 693.1,45.9 694.5,47.5 695.8,48.7 697.1,50 698.4,51.2 699.7,52.3 700.9,53.2 702.1,54.1 703.3,54.8 704.5,55.7 705.7,57.2 706.8,58.8 707.9,60.5 709,62.3 710.1,64.2 711.1,65.9 712.2,67.4 713.2,68.9 714.2,70.1 715.2,70.9 716.2,72 717.1,73.3 718.1,74.8 719,76.9 719.9,79.2 720.8,81.4 721.7,83.9 722.6,86.7 723.4,89.5 724.3,92.8 725.1,96.3 726,99.4 726.8,102.2 727.6,105.2 728.4,108 729.2,111.1 730,114.2 730.7,117.5 731.5,121.2 732.3,125.7 733,130 733.7,135.4 734.5,143.3 735.2,151.2 735.9,162.8 736.6,173.7 737.3,185.3 738,193.8 738.6,201.1 739.3,206.5 740,223.5 740.6,238.1 741.3,252.8 741.9,267.4 742.6,279 743.2,279.6"/>
<g fill="#FF0000"><circle cx="454.1" cy="20" r="1.7"/><circle cx="497.6" cy="20.4" r="1.7"/><circle cx="523.1" cy="21.2" r="1.7"/><circle cx="541.1" cy="21.2" r="1.7"/><circle cx="555.1" cy="21.5" r="1.7"/><circle cx="566.6" cy="21.9" r="1.7"/><circle cx="576.3" cy="21.9" r="1.7"/><circle cx="584.6" cy="23.2" r="1.7"/><circle cx="592" cy="24" r="1.7"/><circle cx="598.7" cy="24.8" r="1.7"/><circle cx="604.6" cy="25.7" r="1.7"/><circle cx="610.1" cy="26.1" r="1.7"/><circle cx="615.1" cy="26.1" r="1.7"/><circle cx="619.8" cy="26.1" r="1.7"/><circle cx="624.1" cy="26.1" r="1.7"/><circle cx="628.2" cy="26.5" r="1.7"/><circle cx="632" cy="26.5" r="1.7"/><circle cx="635.5" cy="27" r="1.7"/><circle cx="638.9" cy="27.4" r="1.7"/><circle cx="642.2" cy="27.9" r="1.7"/><circle cx="645.2" cy="29.2" r="1.7"/><circle cx="648.1" cy="30.1" r="1.7"/><circle cx="650.9" cy="30.1" r="1.7"/><circle cx="653.6" cy="31.6" r="1.7"/><circle cx="656.2" cy="33" r="1.7"/><circle cx="658.6" cy="34.5" r="1.7"/><circle cx="661" cy="34.5" r="1.7"/><circle cx="663.3" cy="34.5" r="1.7"/><circle cx="665.5" cy="34.5" r="1.7"/><circle cx="667.6" cy="35" r="1.7"/><circle cx="669.7" cy="35.6" r="1.7"/><circle cx="671.7" cy="35.6" r="1.7"/><circle cx="673.6" cy="36.1" r="1.7"/><circle cx="675.5" cy="36.1" r="1.7"/><circle cx="677.3" cy="36.6" r="1.7"/><circle cx="679.1" cy="37.1" r="1.7"/><circle cx="680.8" cy="38.7" r="1.7"/><circle cx="682.5" cy="39.3" r="1.7"/><circle cx="684.1" cy="39.3" r="1.7"/><circle cx="685.7" cy="40.4" r="1.7"/><circle cx="687.2" cy="41" r="1.7"/><circle cx="688.7" cy="42.7" r="1.7"/><circle cx="690.2" cy="42.7" r="1.7"/><circle cx="691.7" cy="45.8" r="1.7"/><circle cx="693.1" cy="47.1" r="1.7"/><circle cx="694.5" cy="47.7" r="1.7"/><circle cx="695.8" cy="49" r="1.7"/><circle cx="697.1" cy="51.1" r="1.7"/><circle cx="698.4" cy="51.8" r="1.7"/><circle cx="699.7" cy="53.2" r="1.7"/><circle cx="700.9" cy="53.9" r="1.7"/><circle cx="702.1" cy="54.7" r="1.7"/><circle cx="703.3" cy="55.4" r="1.7"/><circle cx="704.5" cy="56.2" r="1.7"/><circle cx="705.7" cy="56.9" r="1.7"/><circle cx="706.8" cy="58.5" r="1.7"/><circle cx="707.9" cy="61.8" r="1.7"/><circle cx="709" cy="63.5" r="1.7"/><circle cx="710.1" cy="64.4" r="1.7"/><circle cx="711.1" cy="66.3" r="1.7"/><circle cx="712.2" cy="68.1" r="1.7"/><circle cx="713.2" cy="70.1" r="1.7"/><circle cx="714.2" cy="71.1" r="1.7"/><circle cx="715.2" cy="72.1" r="1.7"/><circle cx="716.2" cy="72.1" r="1.7"/><circle cx="717.1" cy="72.1" r="1.7"/><circle cx="718.1" cy="75.3" r="1.7"/><circle cx="719" cy="77.6" r="1.7"/><circle cx="719.9" cy="79.9" r="1.7"/><circle cx="720.8" cy="82.4" r="1.7"/><circle cx="721.7" cy="83.6" r="1.7"/><circle cx="722.6" cy="86.3" r="1.7"/><circle cx="723.4" cy="90.5" r="1.7"/><circle cx="724.3" cy="93.5" r="1.7"/><circle cx="725.1" cy="96.7" r="1.7"/><circle cx="726" cy="100.1" r="1.7"/><circle cx="726.8" cy="103.8" r="1.7"/><circle cx="727.6" cy="105.7" r="1.7"/><circle cx="728.4" cy="107.7" r="1.7"/><circle cx="729.2" cy="111.9" r="1.7"/><circle cx="730" cy="114.1" r="1.7"/><circle cx="730.7" cy="118.9" r="1.7"/><circle cx="731.5" cy="121.5" r="1.7"/><circle cx="732.3" cy="124.2" r="1.7"/><circle cx="733" cy="130.1" r="1.7"/><circle cx="733.7" cy="136.7" r="1.7"/><circle cx="734.5" cy="140.3" r="1.7"/><circle cx="735.2" cy="148.5" r="1.7"/><circle cx="735.9" cy="163.7" r="1.7"/><circle cx="736.6" cy="169.9" r="1.7"/><circle cx="737.3" cy="194.7" r="1.7"/><circle cx="738" cy="194.7" r="1.7"/><circle cx="738.6" cy="206.4" r="1.7"/><circle cx="739.3" cy="206.4" r="1.7"/><circle cx="740" cy="206.4" r="1.7"/><circle cx="740.6" cy="221.6" r="1.7"/><circle cx="741.3" cy="279.6" r="1.7"/><circle cx="741.9" cy="279.6" r="1.7"/><circle cx="742.6" cy="279.6" r="1.7"/><circle cx="743.2" cy="279.6" r="1.7"/></g>
<polyline fill="none" stroke="#A01A1A" stroke-width="1.05" stroke-linejoin="round" points="454.1,20.5 497.6,22 523.1,22.3 541.1,23.1 555.1,24 566.6,25.1 576.3,26.3 584.6,27.3 592,28.4 598.7,29.2 604.6,29.8 610.1,30.6 615.1,31.4 619.8,32.1 624.1,32.9 628.2,33.6 632,34.2 635.5,35 638.9,35.7 642.2,36.6 645.2,37.4 648.1,38.4 650.9,39.4 653.6,40.5 656.2,41.4 658.6,42.1 661,42.7 663.3,43.2 665.5,43.6 667.6,44.2 669.7,45.1 671.7,46.2 673.6,47.7 675.5,49.3 677.3,51 679.1,52.7 680.8,54.3 682.5,55.8 684.1,57.6 685.7,59.2 687.2,60.9 688.7,62.8 690.2,64.8 691.7,67.3 693.1,70.5 694.5,73.7 695.8,76.5 697.1,79.3 698.4,81.1 699.7,82.1 700.9,83.2 702.1,84.2 703.3,85.3 704.5,87 705.7,88.7 706.8,90.5 707.9,92.6 709,95.2 710.1,97.5 711.1,100 712.2,102.5 713.2,104.8 714.2,106.8 715.2,108.8 716.2,111.5 717.1,114.3 718.1,117.1 719,120.8 719.9,125.3 720.8,131.2 721.7,137.5 722.6,144.3 723.4,149.9 724.3,155.3 725.1,162.6 726,169 726.8,176.3 727.6,189 728.4,200.6 729.2,212.2 730,231.1 730.7,240.5 731.5,279.6"/>
<g fill="#A01A1A"><circle cx="454.1" cy="21.5" r="1.7"/><circle cx="497.6" cy="22.8" r="1.7"/><circle cx="523.1" cy="23.6" r="1.7"/><circle cx="541.1" cy="24" r="1.7"/><circle cx="555.1" cy="24.8" r="1.7"/><circle cx="566.6" cy="25.2" r="1.7"/><circle cx="576.3" cy="27.4" r="1.7"/><circle cx="584.6" cy="29.2" r="1.7"/><circle cx="592" cy="29.7" r="1.7"/><circle cx="598.7" cy="30.1" r="1.7"/><circle cx="604.6" cy="30.6" r="1.7"/><circle cx="610.1" cy="31.1" r="1.7"/><circle cx="615.1" cy="32.5" r="1.7"/><circle cx="619.8" cy="33.5" r="1.7"/><circle cx="624.1" cy="34" r="1.7"/><circle cx="628.2" cy="34.5" r="1.7"/><circle cx="632" cy="35" r="1.7"/><circle cx="635.5" cy="36.1" r="1.7"/><circle cx="638.9" cy="36.6" r="1.7"/><circle cx="642.2" cy="37.7" r="1.7"/><circle cx="645.2" cy="38.2" r="1.7"/><circle cx="648.1" cy="39.3" r="1.7"/><circle cx="650.9" cy="40.4" r="1.7"/><circle cx="653.6" cy="41.6" r="1.7"/><circle cx="656.2" cy="42.7" r="1.7"/><circle cx="658.6" cy="43.3" r="1.7"/><circle cx="661" cy="43.9" r="1.7"/><circle cx="663.3" cy="43.9" r="1.7"/><circle cx="665.5" cy="44.6" r="1.7"/><circle cx="667.6" cy="45.2" r="1.7"/><circle cx="669.7" cy="45.2" r="1.7"/><circle cx="671.7" cy="47.1" r="1.7"/><circle cx="673.6" cy="48.4" r="1.7"/><circle cx="675.5" cy="50.4" r="1.7"/><circle cx="677.3" cy="52.5" r="1.7"/><circle cx="679.1" cy="53.2" r="1.7"/><circle cx="680.8" cy="55.4" r="1.7"/><circle cx="682.5" cy="56.9" r="1.7"/><circle cx="684.1" cy="58.5" r="1.7"/><circle cx="685.7" cy="60.1" r="1.7"/><circle cx="687.2" cy="61.8" r="1.7"/><circle cx="688.7" cy="63.5" r="1.7"/><circle cx="690.2" cy="65.3" r="1.7"/><circle cx="691.7" cy="68.1" r="1.7"/><circle cx="693.1" cy="70.1" r="1.7"/><circle cx="694.5" cy="74.2" r="1.7"/><circle cx="695.8" cy="79.9" r="1.7"/><circle cx="697.1" cy="81.1" r="1.7"/><circle cx="698.4" cy="82.4" r="1.7"/><circle cx="699.7" cy="83.6" r="1.7"/><circle cx="700.9" cy="83.6" r="1.7"/><circle cx="702.1" cy="84.9" r="1.7"/><circle cx="703.3" cy="86.3" r="1.7"/><circle cx="704.5" cy="87.7" r="1.7"/><circle cx="705.7" cy="89.1" r="1.7"/><circle cx="706.8" cy="92" r="1.7"/><circle cx="707.9" cy="93.5" r="1.7"/><circle cx="709" cy="95.1" r="1.7"/><circle cx="710.1" cy="98.4" r="1.7"/><circle cx="711.1" cy="101.9" r="1.7"/><circle cx="712.2" cy="103.8" r="1.7"/><circle cx="713.2" cy="105.7" r="1.7"/><circle cx="714.2" cy="107.7" r="1.7"/><circle cx="715.2" cy="109.7" r="1.7"/><circle cx="716.2" cy="111.9" r="1.7"/><circle cx="717.1" cy="114.1" r="1.7"/><circle cx="718.1" cy="118.9" r="1.7"/><circle cx="719" cy="121.5" r="1.7"/><circle cx="719.9" cy="124.2" r="1.7"/><circle cx="720.8" cy="130.1" r="1.7"/><circle cx="721.7" cy="136.7" r="1.7"/><circle cx="722.6" cy="148.5" r="1.7"/><circle cx="723.4" cy="153.1" r="1.7"/><circle cx="724.3" cy="158.1" r="1.7"/><circle cx="725.1" cy="158.1" r="1.7"/><circle cx="726" cy="163.7" r="1.7"/><circle cx="726.8" cy="185" r="1.7"/><circle cx="727.6" cy="185" r="1.7"/><circle cx="728.4" cy="194.7" r="1.7"/><circle cx="729.2" cy="221.6" r="1.7"/><circle cx="730" cy="221.6" r="1.7"/><circle cx="730.7" cy="243" r="1.7"/><circle cx="731.5" cy="279.6" r="1.7"/></g>
<polyline fill="none" stroke="#228B22" stroke-width="1.05" stroke-linejoin="round" points="454.1,22.2 497.6,25.6 523.1,26.6 541.1,28.5 555.1,30.2 566.6,31.8 576.3,33.3 584.6,34.5 592,35.7 598.7,36.6 604.6,37.6 610.1,38.8 615.1,39.8 619.8,40.7 624.1,41.8 628.2,43 632,44.2 635.5,45.6 638.9,47.4 642.2,49.6 645.2,51.8 648.1,53.7 650.9,55.7 653.6,58.5 656.2,61.3 658.6,63.9 661,66.5 663.3,69.1 665.5,71.2 667.6,73 669.7,75 671.7,77.5 673.6,80.2 675.5,83.1 677.3,86.7 679.1,90.1 680.8,93.2 682.5,95.7 684.1,97.7 685.7,98.7 687.2,99.4 688.7,100.1 690.2,100.9 691.7,102 693.1,103.6 694.5,105.6 695.8,107.6 697.1,112.3 698.4,117.4 699.7,122.1 700.9,127.8 702.1,133.9 703.3,138.1 704.5,141.2 705.7,144.2 706.8,147.8 707.9,151.6 709,157.3 710.1,168.9 711.1,180.5 712.2,204.8 713.2,228 714.2,248.5 715.2,263.2 716.2,277.8 717.1,277.8 718.1,277.8 719,277.8 719.9,279.6"/>
<g fill="#228B22"><circle cx="454.1" cy="24" r="1.7"/><circle cx="497.6" cy="26.5" r="1.7"/><circle cx="523.1" cy="28.3" r="1.7"/><circle cx="541.1" cy="30.6" r="1.7"/><circle cx="555.1" cy="32.5" r="1.7"/><circle cx="566.6" cy="33.5" r="1.7"/><circle cx="576.3" cy="35" r="1.7"/><circle cx="584.6" cy="36.1" r="1.7"/><circle cx="592" cy="38.2" r="1.7"/><circle cx="598.7" cy="38.7" r="1.7"/><circle cx="604.6" cy="39.3" r="1.7"/><circle cx="610.1" cy="39.9" r="1.7"/><circle cx="615.1" cy="41" r="1.7"/><circle cx="619.8" cy="43.9" r="1.7"/><circle cx="624.1" cy="43.9" r="1.7"/><circle cx="628.2" cy="43.9" r="1.7"/><circle cx="632" cy="45.2" r="1.7"/><circle cx="635.5" cy="47.1" r="1.7"/><circle cx="638.9" cy="49.7" r="1.7"/><circle cx="642.2" cy="51.1" r="1.7"/><circle cx="645.2" cy="53.2" r="1.7"/><circle cx="648.1" cy="56.2" r="1.7"/><circle cx="650.9" cy="57.7" r="1.7"/><circle cx="653.6" cy="59.3" r="1.7"/><circle cx="656.2" cy="61" r="1.7"/><circle cx="658.6" cy="67.2" r="1.7"/><circle cx="661" cy="70.1" r="1.7"/><circle cx="663.3" cy="71.1" r="1.7"/><circle cx="665.5" cy="72.1" r="1.7"/><circle cx="667.6" cy="74.2" r="1.7"/><circle cx="669.7" cy="77.6" r="1.7"/><circle cx="671.7" cy="78.7" r="1.7"/><circle cx="673.6" cy="81.1" r="1.7"/><circle cx="675.5" cy="84.9" r="1.7"/><circle cx="677.3" cy="87.7" r="1.7"/><circle cx="679.1" cy="92" r="1.7"/><circle cx="680.8" cy="96.7" r="1.7"/><circle cx="682.5" cy="98.4" r="1.7"/><circle cx="684.1" cy="100.1" r="1.7"/><circle cx="685.7" cy="100.1" r="1.7"/><circle cx="687.2" cy="101.9" r="1.7"/><circle cx="688.7" cy="101.9" r="1.7"/><circle cx="690.2" cy="101.9" r="1.7"/><circle cx="691.7" cy="103.8" r="1.7"/><circle cx="693.1" cy="103.8" r="1.7"/><circle cx="694.5" cy="107.7" r="1.7"/><circle cx="695.8" cy="109.7" r="1.7"/><circle cx="697.1" cy="111.9" r="1.7"/><circle cx="698.4" cy="114.1" r="1.7"/><circle cx="699.7" cy="127.1" r="1.7"/><circle cx="700.9" cy="133.3" r="1.7"/><circle cx="702.1" cy="133.3" r="1.7"/><circle cx="703.3" cy="140.3" r="1.7"/><circle cx="704.5" cy="144.3" r="1.7"/><circle cx="705.7" cy="148.5" r="1.7"/><circle cx="706.8" cy="148.5" r="1.7"/><circle cx="707.9" cy="148.5" r="1.7"/><circle cx="709" cy="158.1" r="1.7"/><circle cx="710.1" cy="163.7" r="1.7"/><circle cx="711.1" cy="176.9" r="1.7"/><circle cx="712.2" cy="206.4" r="1.7"/><circle cx="713.2" cy="206.4" r="1.7"/><circle cx="714.2" cy="279.6" r="1.7"/><circle cx="715.2" cy="279.6" r="1.7"/><circle cx="716.2" cy="279.6" r="1.7"/><circle cx="717.1" cy="279.6" r="1.7"/><circle cx="718.1" cy="279.6" r="1.7"/><circle cx="719" cy="279.6" r="1.7"/><circle cx="719.9" cy="279.6" r="1.7"/></g>
<polyline fill="none" stroke="#5173e0" stroke-width="1.05" stroke-linejoin="round" points="454.3,28.2 498,33.4 520,34.8 541,38.4 555.6,41.5 568.2,45.1 578.7,48.4 585,49.5 591.5,50.6 598.9,54.8 605.2,59.5 610.4,64.7 616.7,67.9 625,71.8 635.9,81.1 647.8,90.7 657.4,100.2 665.8,108.6 671.8,119.4 674.2,129 676.3,133.3 680.2,148.6 682.7,165 685.2,185.4 687.8,207 690.3,233.7 692.3,279.4"/>
<g fill="#4169E1"><circle cx="454.1" cy="33" r="1.7"/><circle cx="497.6" cy="35" r="1.7"/><circle cx="523.1" cy="37.7" r="1.7"/><circle cx="541.1" cy="40.4" r="1.7"/><circle cx="555.1" cy="43.9" r="1.7"/><circle cx="566.6" cy="47.7" r="1.7"/><circle cx="576.3" cy="49" r="1.7"/><circle cx="584.6" cy="51.1" r="1.7"/><circle cx="592" cy="54.7" r="1.7"/><circle cx="598.7" cy="58.5" r="1.7"/><circle cx="604.6" cy="64.4" r="1.7"/><circle cx="610.1" cy="68.1" r="1.7"/><circle cx="615.1" cy="70.1" r="1.7"/><circle cx="619.8" cy="72.1" r="1.7"/><circle cx="624.1" cy="75.3" r="1.7"/><circle cx="628.2" cy="77.6" r="1.7"/><circle cx="632" cy="82.4" r="1.7"/><circle cx="635.5" cy="84.9" r="1.7"/><circle cx="638.9" cy="86.3" r="1.7"/><circle cx="642.2" cy="89.1" r="1.7"/><circle cx="645.2" cy="93.5" r="1.7"/><circle cx="648.1" cy="95.1" r="1.7"/><circle cx="650.9" cy="98.4" r="1.7"/><circle cx="653.6" cy="101.9" r="1.7"/><circle cx="656.2" cy="103.8" r="1.7"/><circle cx="658.6" cy="105.7" r="1.7"/><circle cx="661" cy="107.7" r="1.7"/><circle cx="663.3" cy="109.7" r="1.7"/><circle cx="665.5" cy="111.9" r="1.7"/><circle cx="667.6" cy="116.5" r="1.7"/><circle cx="669.7" cy="118.9" r="1.7"/><circle cx="671.7" cy="127.1" r="1.7"/><circle cx="673.6" cy="127.1" r="1.7"/><circle cx="675.5" cy="133.3" r="1.7"/><circle cx="677.3" cy="140.3" r="1.7"/><circle cx="679.1" cy="148.5" r="1.7"/><circle cx="680.8" cy="158.1" r="1.7"/><circle cx="682.5" cy="185" r="1.7"/><circle cx="684.1" cy="185" r="1.7"/><circle cx="685.7" cy="194.7" r="1.7"/><circle cx="687.2" cy="206.4" r="1.7"/><circle cx="688.7" cy="221.6" r="1.7"/><circle cx="690.2" cy="279.6" r="1.7"/><circle cx="691.7" cy="279.6" r="1.7"/><circle cx="693.1" cy="279.6" r="1.7"/><circle cx="694.5" cy="279.6" r="1.7"/><circle cx="695.8" cy="279.6" r="1.7"/><circle cx="697.1" cy="279.6" r="1.7"/><circle cx="698.4" cy="279.6" r="1.7"/></g>
<polyline fill="none" stroke="#2a2ae0" stroke-width="1.05" stroke-linejoin="round" points="454.3,40.8 498,48.3 523.1,52.6 541.6,58.8 555.6,63.9 567.1,74.1 576,80.4 582.4,85 593.9,92.1 604,95.2 610.4,100.3 617.5,107.9 623.1,118.5 627.3,134 632.1,140.4 636,146.5 638.6,152.5 640.3,160.5 643.3,175.2 647.1,185.4 649.6,198.1 653.4,207 656,221 658.5,233.7 659.8,243.4"/>
<g fill="#0000EE"><circle cx="454.1" cy="48.4" r="1.7"/><circle cx="497.6" cy="53.2" r="1.7"/><circle cx="523.1" cy="57.7" r="1.7"/><circle cx="541.1" cy="64.4" r="1.7"/><circle cx="555.1" cy="75.3" r="1.7"/><circle cx="566.6" cy="79.9" r="1.7"/><circle cx="576.3" cy="86.3" r="1.7"/><circle cx="584.6" cy="92" r="1.7"/><circle cx="592" cy="93.5" r="1.7"/><circle cx="598.7" cy="95.1" r="1.7"/><circle cx="604.6" cy="98.4" r="1.7"/><circle cx="610.1" cy="105.7" r="1.7"/><circle cx="615.1" cy="111.9" r="1.7"/><circle cx="619.8" cy="121.5" r="1.7"/><circle cx="624.1" cy="136.7" r="1.7"/><circle cx="628.2" cy="140.3" r="1.7"/><circle cx="632" cy="148.5" r="1.7"/><circle cx="635.5" cy="153.1" r="1.7"/><circle cx="638.9" cy="176.9" r="1.7"/><circle cx="642.2" cy="185" r="1.7"/><circle cx="645.2" cy="185" r="1.7"/><circle cx="648.1" cy="206.4" r="1.7"/><circle cx="650.9" cy="206.4" r="1.7"/><circle cx="653.6" cy="221.6" r="1.7"/><circle cx="656.2" cy="243" r="1.7"/><circle cx="658.6" cy="243" r="1.7"/><circle cx="661" cy="243" r="1.7"/></g>
</g>
<clipPath id="cb"><rect x="441.5" y="4.5" width="341" height="286"/></clipPath>
<line x1="743.3" y1="290.5" x2="743.3" y2="4.5" stroke="#d11f26" stroke-width="1.4" stroke-dasharray="4.2 3.76"/>
<line x1="446.5" y1="239.7" x2="456.7" y2="239.7" stroke="#FFA500" stroke-width="1.3"/>
<circle cx="451.5" cy="239.7" r="1.7" fill="#FFA500"/>
<text transform="translate(460.8,243.2) scale(1,1.15)" style="font-size:6.45px;fill:#40405a">T=0.3</text>
<line x1="446.5" y1="245.6" x2="456.7" y2="245.6" stroke="#A020F0" stroke-width="1.3"/>
<circle cx="451.5" cy="245.6" r="1.7" fill="#A020F0"/>
<text transform="translate(460.8,249.1) scale(1,1.15)" style="font-size:6.45px;fill:#40405a">T=0.4</text>
<line x1="446.5" y1="251.5" x2="456.7" y2="251.5" stroke="#FFC0CB" stroke-width="1.3"/>
<circle cx="451.5" cy="251.5" r="1.7" fill="#FFC0CB"/>
<text transform="translate(460.8,255) scale(1,1.15)" style="font-size:6.45px;fill:#40405a">T=0.5</text>
<line x1="446.5" y1="257.5" x2="456.7" y2="257.5" stroke="#FF0000" stroke-width="1.3"/>
<circle cx="451.5" cy="257.5" r="1.7" fill="#FF0000"/>
<text transform="translate(460.8,261) scale(1,1.15)" style="font-size:6.45px;fill:#40405a">T=0.6</text>
<line x1="446.5" y1="263.4" x2="456.7" y2="263.4" stroke="#A01A1A" stroke-width="1.3"/>
<circle cx="451.5" cy="263.4" r="1.7" fill="#A01A1A"/>
<text transform="translate(460.8,266.9) scale(1,1.15)" style="font-size:6.45px;fill:#40405a">T=0.65</text>
<line x1="446.5" y1="269.3" x2="456.7" y2="269.3" stroke="#228B22" stroke-width="1.3"/>
<circle cx="451.5" cy="269.3" r="1.7" fill="#228B22"/>
<text transform="translate(460.8,272.8) scale(1,1.15)" style="font-size:6.45px;fill:#40405a">T=0.7</text>
<line x1="446.5" y1="275.2" x2="456.7" y2="275.2" stroke="#4169E1" stroke-width="1.3"/>
<circle cx="451.5" cy="275.2" r="1.7" fill="#4169E1"/>
<text transform="translate(460.8,278.7) scale(1,1.15)" style="font-size:6.45px;fill:#40405a">T=0.75</text>
<line x1="446.5" y1="281.1" x2="456.7" y2="281.1" stroke="#0000EE" stroke-width="1.3"/>
<circle cx="451.5" cy="281.1" r="1.7" fill="#0000EE"/>
<text transform="translate(460.8,284.6) scale(1,1.15)" style="font-size:6.45px;fill:#40405a">T=0.8</text>
<rect x="441.4" y="4.9" width="340.9" height="285.6" fill="none" stroke="#6e6e6e" stroke-width="1.05"/>
</svg></body></html>
